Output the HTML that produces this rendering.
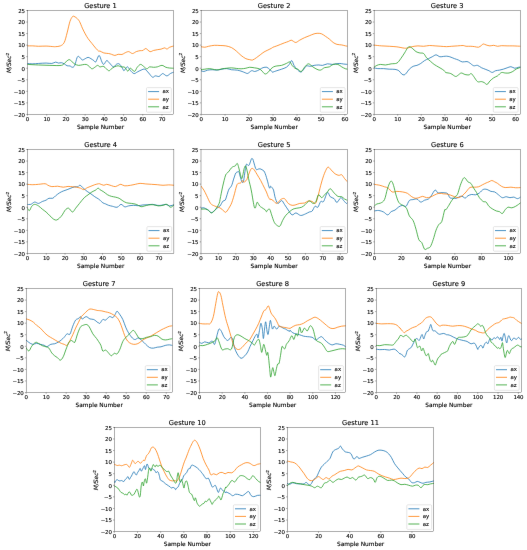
<!DOCTYPE html><html><head><meta charset="utf-8"><title>Gestures</title><style>html,body{margin:0;padding:0;background:#fff;width:527px;height:550px;overflow:hidden}svg{display:block}text{font-family:"DejaVu Sans","Liberation Sans",sans-serif;fill:#000;stroke:#000}.it{font-style:italic}.lg{font-style:normal}</style></head><body>
<svg width="527" height="550" viewBox="0 0 527 550">
<defs><filter id="bl" x="0" y="0" width="527" height="550" filterUnits="userSpaceOnUse" color-interpolation-filters="sRGB"><feConvolveMatrix order="3" kernelMatrix="0 1 0 1 24 1 0 1 0" divisor="28" edgeMode="duplicate" preserveAlpha="true"/></filter>
<clipPath id="c0"><rect x="27.5" y="10.5" width="146" height="103.9"/></clipPath>
<clipPath id="c1"><rect x="201.1" y="10.5" width="146.2" height="103.9"/></clipPath>
<clipPath id="c2"><rect x="374.1" y="10.5" width="146.2" height="103.9"/></clipPath>
<clipPath id="c3"><rect x="27.5" y="149.5" width="146.4" height="103.9"/></clipPath>
<clipPath id="c4"><rect x="201" y="149.5" width="146.2" height="103.9"/></clipPath>
<clipPath id="c5"><rect x="374.5" y="149.5" width="145.9" height="103.9"/></clipPath>
<clipPath id="c6"><rect x="26.15" y="288.5" width="146.1" height="104"/></clipPath>
<clipPath id="c7"><rect x="199.5" y="288.5" width="146.1" height="104"/></clipPath>
<clipPath id="c8"><rect x="376.2" y="288.5" width="145.2" height="104"/></clipPath>
<clipPath id="c9"><rect x="114.3" y="427.4" width="146.1" height="104.2"/></clipPath>
<clipPath id="c10"><rect x="287.3" y="427.4" width="146.5" height="104.2"/></clipPath>
</defs><g filter="url(#bl)"><rect width="527" height="550" fill="#fff"/>
<g><g clip-path="url(#c0)" fill="none" stroke-width="1" stroke-opacity="0.8" stroke-linejoin="round" stroke-linecap="round"><path d="M27 63.45C27.95 63.52 30.82 63.84 32.73 63.84C34.64 63.84 36.23 63.58 38.45 63.45C40.68 63.33 43.86 63.07 46.09 63.07C48.32 63.07 50.23 63.61 51.82 63.45C53.41 63.3 54.52 62.18 55.64 62.12C56.75 62.05 57.55 62.98 58.5 63.07C59.45 63.17 60.41 62.56 61.36 62.69C62.32 62.82 63.27 63.33 64.23 63.84C65.18 64.35 66.14 65.4 67.09 65.75C68.05 66.1 69.06 65.68 69.95 65.94C70.85 66.19 71.64 67.37 72.44 67.27C73.23 67.18 73.96 66.95 74.73 65.36C75.49 63.77 76.38 59.22 77.02 57.73C77.65 56.23 77.97 56.33 78.55 56.39C79.12 56.45 79.82 57.5 80.45 58.11C81.09 58.71 81.57 59.92 82.36 60.02C83.16 60.11 84.27 59.13 85.23 58.68C86.18 58.24 87.14 57.35 88.09 57.35C89.05 57.35 90 58.14 90.95 58.68C91.91 59.22 93.02 60.05 93.82 60.59C94.61 61.13 94.93 62.72 95.73 61.93C96.52 61.13 97.88 56.68 98.59 55.82C99.3 54.96 99.45 55.75 100 56.77C100.55 57.79 101.27 60.65 101.91 61.93C102.55 63.2 103.02 64.63 103.82 64.41C104.61 64.19 105.73 60.81 106.68 60.59C107.64 60.37 108.43 62.02 109.55 63.07C110.66 64.12 112.25 66.67 113.36 66.89C114.48 67.11 115.27 64.92 116.23 64.41C117.18 63.9 118.14 63.36 119.09 63.84C120.05 64.31 121.16 66.13 121.95 67.27C122.75 68.42 123.23 70.55 123.86 70.71C124.5 70.87 125.14 68.86 125.77 68.23C126.41 67.59 126.89 66.48 127.68 66.89C128.48 67.3 129.5 69.6 130.55 70.71C131.6 71.82 132.87 73.35 133.98 73.57C135.1 73.8 136.05 72.62 137.23 72.05C138.4 71.47 139.77 70.61 141.05 70.14C142.32 69.66 143.59 68.7 144.86 69.18C146.14 69.66 147.41 71.66 148.68 73C149.95 74.34 151.39 76.72 152.5 77.2C153.61 77.68 154.25 75.99 155.36 75.86C156.48 75.74 157.97 76.82 159.18 76.44C160.39 76.05 161.35 73.67 162.62 73.57C163.89 73.48 165.48 75.9 166.82 75.86C168.15 75.83 169.43 74.02 170.64 73.38C171.85 72.75 173.5 72.27 174.07 72.05" stroke="#1f77b4"/><path d="M27 45.89C27.95 45.89 30.82 45.83 32.73 45.89C34.64 45.95 36.23 46.24 38.45 46.27C40.68 46.3 43.55 46.02 46.09 46.08C48.64 46.15 52.14 46.56 53.73 46.65C55.32 46.75 54.52 46.78 55.64 46.65C56.75 46.53 58.98 46.59 60.41 45.89C61.84 45.19 63.11 44.62 64.23 42.45C65.34 40.29 66.14 36.41 67.09 32.91C68.05 29.41 69.06 24.16 69.95 21.45C70.85 18.75 71.8 17.54 72.44 16.68C73.07 15.82 73.07 16.08 73.77 16.3C74.47 16.52 75.68 17.16 76.64 18.02C77.59 18.88 78.55 19.77 79.5 21.45C80.45 23.14 81.41 26.07 82.36 28.14C83.32 30.2 84.27 32.11 85.23 33.86C86.18 35.61 86.98 37.05 88.09 38.64C89.2 40.23 90.64 41.82 91.91 43.41C93.18 45 94.61 46.91 95.73 48.18C96.84 49.45 97.88 50.57 98.59 51.05C99.3 51.52 99.13 50.73 100 51.05C100.87 51.36 102.39 52.54 103.82 52.95C105.25 53.37 107.32 53.3 108.59 53.53C109.86 53.75 110.4 53.97 111.45 54.29C112.5 54.61 113.78 55.44 114.89 55.44C116 55.44 116.96 54.45 118.14 54.29C119.31 54.13 120.84 54.7 121.95 54.48C123.07 54.26 123.7 53.43 124.82 52.95C125.93 52.48 127.36 51.52 128.64 51.62C129.91 51.71 131.18 53.53 132.45 53.53C133.73 53.53 135 52.1 136.27 51.62C137.55 51.14 138.98 50.85 140.09 50.66C141.2 50.47 142 50.82 142.95 50.47C143.91 50.12 144.64 48.37 145.82 48.56C147 48.75 148.75 51.3 150.02 51.62C151.29 51.94 152.25 50.79 153.45 50.47C154.66 50.15 156 49.93 157.27 49.71C158.55 49.49 159.82 49.45 161.09 49.14C162.36 48.82 163.95 47.8 164.91 47.8C165.86 47.8 166.02 49.23 166.82 49.14C167.61 49.04 168.47 47.77 169.68 47.23C170.89 46.69 173.34 46.11 174.07 45.89" stroke="#ff7f0e"/><path d="M27 64.41C28.91 64.5 34.64 64.82 38.45 64.98C42.27 65.14 46.09 65.3 49.91 65.36C53.73 65.43 58.82 65.84 61.36 65.36C63.91 64.89 63.91 63.45 65.18 62.5C66.45 61.55 67.89 59.8 69 59.64C70.11 59.48 70.91 60.81 71.86 61.55C72.82 62.28 73.61 63.39 74.73 64.03C75.84 64.66 77.27 65.24 78.55 65.36C79.82 65.49 81.09 64.95 82.36 64.79C83.64 64.63 85.07 64.15 86.18 64.41C87.3 64.66 88.09 65.59 89.05 66.32C90 67.05 90.95 68.64 91.91 68.8C92.86 68.96 93.82 67.85 94.77 67.27C95.73 66.7 96.77 65.43 97.64 65.36C98.51 65.3 98.97 66.7 100 66.89C101.03 67.08 102.39 65.87 103.82 66.51C105.25 67.15 107.32 70.33 108.59 70.71C109.86 71.09 110.5 69.44 111.45 68.8C112.41 68.16 113.2 67.4 114.32 66.89C115.43 66.38 117.02 65.75 118.14 65.75C119.25 65.75 119.89 66.64 121 66.89C122.11 67.15 123.7 66.57 124.82 67.27C125.93 67.97 126.73 70.93 127.68 71.09C128.64 71.25 129.43 68.16 130.55 68.23C131.66 68.29 133.25 71.63 134.36 71.47C135.48 71.31 136.21 68.45 137.23 67.27C138.25 66.1 139.42 64.57 140.47 64.41C141.52 64.25 142.48 65.59 143.53 66.32C144.58 67.05 145.75 68.7 146.77 68.8C147.79 68.9 148.52 67.15 149.64 66.89C150.75 66.64 152.18 67.27 153.45 67.27C154.73 67.27 155.84 67.21 157.27 66.89C158.7 66.57 160.61 65.3 162.05 65.36C163.48 65.43 164.59 66.83 165.86 67.27C167.14 67.72 168.31 67.88 169.68 68.04C171.05 68.2 173.34 68.2 174.07 68.23" stroke="#2ca02c"/></g><rect x="27.5" y="10.5" width="146" height="103.9" fill="none" stroke="#000" stroke-width="0.32"/><path d="M26.2 114.4H27.5M26.2 102.86H27.5M26.2 91.31H27.5M26.2 79.77H27.5M26.2 68.22H27.5M26.2 56.68H27.5M26.2 45.13H27.5M26.2 33.59H27.5M26.2 22.04H27.5M26.2 10.5H27.5M27.5 114.4V115.7M46.71 114.4V115.7M65.92 114.4V115.7M85.13 114.4V115.7M104.34 114.4V115.7M123.55 114.4V115.7M142.76 114.4V115.7M161.97 114.4V115.7" stroke="#000" stroke-width="0.32"/><text transform="translate(24.9 116.69) rotate(0) scale(0.02)" font-size="272.5" text-anchor="end" stroke-width="6" letter-spacing="-7.5">−20</text><text transform="translate(24.9 105.14) rotate(0) scale(0.02)" font-size="272.5" text-anchor="end" stroke-width="6" letter-spacing="-7.5">−15</text><text transform="translate(24.9 93.6) rotate(0) scale(0.02)" font-size="272.5" text-anchor="end" stroke-width="6" letter-spacing="-7.5">−10</text><text transform="translate(24.9 82.06) rotate(0) scale(0.02)" font-size="272.5" text-anchor="end" stroke-width="6" letter-spacing="-7.5">−5</text><text transform="translate(24.9 70.51) rotate(0) scale(0.02)" font-size="272.5" text-anchor="end" stroke-width="6" letter-spacing="-7.5">0</text><text transform="translate(24.9 58.97) rotate(0) scale(0.02)" font-size="272.5" text-anchor="end" stroke-width="6" letter-spacing="-7.5">5</text><text transform="translate(24.9 47.42) rotate(0) scale(0.02)" font-size="272.5" text-anchor="end" stroke-width="6" letter-spacing="-7.5">10</text><text transform="translate(24.9 35.88) rotate(0) scale(0.02)" font-size="272.5" text-anchor="end" stroke-width="6" letter-spacing="-7.5">15</text><text transform="translate(24.9 24.33) rotate(0) scale(0.02)" font-size="272.5" text-anchor="end" stroke-width="6" letter-spacing="-7.5">20</text><text transform="translate(24.9 12.79) rotate(0) scale(0.02)" font-size="272.5" text-anchor="end" stroke-width="6" letter-spacing="-7.5">25</text><text transform="translate(27.5 121.1) rotate(0) scale(0.02)" font-size="272.5" text-anchor="middle" stroke-width="6" letter-spacing="-7.5">0</text><text transform="translate(46.71 121.1) rotate(0) scale(0.02)" font-size="272.5" text-anchor="middle" stroke-width="6" letter-spacing="-7.5">10</text><text transform="translate(65.92 121.1) rotate(0) scale(0.02)" font-size="272.5" text-anchor="middle" stroke-width="6" letter-spacing="-7.5">20</text><text transform="translate(85.13 121.1) rotate(0) scale(0.02)" font-size="272.5" text-anchor="middle" stroke-width="6" letter-spacing="-7.5">30</text><text transform="translate(104.34 121.1) rotate(0) scale(0.02)" font-size="272.5" text-anchor="middle" stroke-width="6" letter-spacing="-7.5">40</text><text transform="translate(123.55 121.1) rotate(0) scale(0.02)" font-size="272.5" text-anchor="middle" stroke-width="6" letter-spacing="-7.5">50</text><text transform="translate(142.76 121.1) rotate(0) scale(0.02)" font-size="272.5" text-anchor="middle" stroke-width="6" letter-spacing="-7.5">60</text><text transform="translate(161.97 121.1) rotate(0) scale(0.02)" font-size="272.5" text-anchor="middle" stroke-width="6" letter-spacing="-7.5">70</text><text transform="translate(100.5 128.9) rotate(0) scale(0.02)" font-size="292.5" text-anchor="middle" stroke-width="6">Sample Number</text><text transform="translate(100.5 8.1) rotate(0) scale(0.02)" font-size="335" text-anchor="middle" stroke-width="6">Gesture 1</text><text transform="translate(10.9 63.05) rotate(-90) scale(0.02)" font-size="292.5" text-anchor="middle" class="it" stroke-width="6">M/Sec<tspan font-size="204.75" dy="-105.3" font-style="normal">2</tspan></text><rect x="146.5" y="87.6" width="24.8" height="24.6" rx="1" fill="#fff" fill-opacity="0.8" stroke="#ccc" stroke-width="0.5"/><path d="M148.1 91.6H159.1" stroke="#1f77b4" stroke-opacity="0.8" stroke-width="1"/><text transform="translate(162.5 93.3) rotate(0) scale(0.02)" font-size="270" class="lg" stroke-width="5">ax</text><path d="M148.1 99.2H159.1" stroke="#ff7f0e" stroke-opacity="0.8" stroke-width="1"/><text transform="translate(162.5 100.9) rotate(0) scale(0.02)" font-size="270" class="lg" stroke-width="5">ay</text><path d="M148.1 106.8H159.1" stroke="#2ca02c" stroke-opacity="0.8" stroke-width="1"/><text transform="translate(162.5 108.5) rotate(0) scale(0.02)" font-size="270" class="lg" stroke-width="5">az</text></g>
<g><g clip-path="url(#c1)" fill="none" stroke-width="1" stroke-opacity="0.8" stroke-linejoin="round" stroke-linecap="round"><path d="M201 70.71C201.48 70.84 202.75 71.57 203.86 71.47C204.98 71.38 206.25 70.42 207.68 70.14C209.11 69.85 210.86 69.75 212.45 69.75C214.05 69.75 215.64 70.23 217.23 70.14C218.82 70.04 220.41 69.44 222 69.18C223.59 68.93 225.18 68.51 226.77 68.61C228.36 68.7 229.8 69.5 231.55 69.75C233.3 70.01 235.52 69.85 237.27 70.14C239.02 70.42 240.77 71.06 242.05 71.47C243.32 71.89 243.95 72.3 244.91 72.62C245.86 72.94 246.66 73.7 247.77 73.38C248.89 73.06 250.48 71.03 251.59 70.71C252.7 70.39 253.5 71.47 254.45 71.47C255.41 71.47 256.36 71.09 257.32 70.71C258.27 70.33 259.23 69.69 260.18 69.18C261.14 68.67 261.93 67.97 263.05 67.65C264.16 67.34 265.75 66.95 266.86 67.27C267.98 67.59 268.77 68.77 269.73 69.56C270.68 70.36 272.05 71.63 272.59 72.05C273.14 72.46 272.3 72.27 273 72.05C273.7 71.82 275.39 71.19 276.82 70.71C278.25 70.23 280 69.75 281.59 69.18C283.18 68.61 285.09 68.07 286.36 67.27C287.64 66.48 288.34 65.52 289.23 64.41C290.12 63.3 290.91 60.43 291.71 60.59C292.5 60.75 293.14 63.93 294 65.36C294.86 66.8 295.75 68.07 296.86 69.18C297.98 70.3 299.57 71.98 300.68 72.05C301.8 72.11 302.59 70.58 303.55 69.56C304.5 68.55 305.3 66.48 306.41 65.94C307.52 65.4 308.95 66.41 310.23 66.32C311.5 66.22 312.61 65.59 314.05 65.36C315.48 65.14 317.39 64.98 318.82 64.98C320.25 64.98 321.2 65.55 322.64 65.36C324.07 65.17 325.82 64 327.41 63.84C329 63.68 330.75 64.41 332.18 64.41C333.61 64.41 334.73 64 336 63.84C337.27 63.68 338.55 63.42 339.82 63.45C341.09 63.49 342.27 63.87 343.64 64.03C345 64.19 347.3 64.35 348.03 64.41" stroke="#1f77b4"/><path d="M201 46.65C201.64 46.75 203.55 47.29 204.82 47.23C206.09 47.16 207.05 46.59 208.64 46.27C210.23 45.95 212.45 45.45 214.36 45.32C216.27 45.19 218.18 45.41 220.09 45.51C222 45.6 223.91 45.54 225.82 45.89C227.73 46.24 229.8 46.75 231.55 47.61C233.3 48.47 234.73 49.74 236.32 51.05C237.91 52.35 239.5 54.16 241.09 55.44C242.68 56.71 244.43 57.98 245.86 58.68C247.3 59.38 248.57 59.41 249.68 59.64C250.8 59.86 251.43 60.34 252.55 60.02C253.66 59.7 255.09 58.59 256.36 57.73C257.64 56.87 258.91 55.82 260.18 54.86C261.45 53.91 262.73 52.8 264 52C265.27 51.2 266.55 50.73 267.82 50.09C269.09 49.45 270.77 48.66 271.64 48.18C272.5 47.7 272.14 47.61 273 47.23C273.86 46.85 275.55 46.37 276.82 45.89C278.09 45.41 279.36 44.87 280.64 44.36C281.91 43.85 283.18 43.31 284.45 42.84C285.73 42.36 287.16 41.95 288.27 41.5C289.39 41.05 290.34 40.23 291.14 40.16C291.93 40.1 292.25 40.74 293.05 41.12C293.84 41.5 294.8 42.61 295.91 42.45C297.02 42.3 298.3 40.96 299.73 40.16C301.16 39.37 302.91 38.41 304.5 37.68C306.09 36.95 307.68 36.41 309.27 35.77C310.86 35.14 312.61 34.28 314.05 33.86C315.48 33.45 316.59 33.29 317.86 33.29C319.14 33.29 320.41 33.35 321.68 33.86C322.95 34.37 324.23 35.49 325.5 36.35C326.77 37.2 328.05 38 329.32 39.02C330.59 40.04 331.86 41.56 333.14 42.45C334.41 43.35 335.52 43.95 336.95 44.36C338.39 44.78 340.3 44.68 341.73 44.94C343.16 45.19 344.5 45.67 345.55 45.89C346.6 46.11 347.61 46.21 348.03 46.27" stroke="#ff7f0e"/><path d="M201 69.56C201.64 69.5 203.39 69.34 204.82 69.18C206.25 69.02 208 68.55 209.59 68.61C211.18 68.67 212.93 69.37 214.36 69.56C215.8 69.75 216.91 69.88 218.18 69.75C219.45 69.63 220.57 69.05 222 68.8C223.43 68.55 225.18 68.39 226.77 68.23C228.36 68.07 229.95 67.81 231.55 67.85C233.14 67.88 234.73 68.26 236.32 68.42C237.91 68.58 239.5 68.83 241.09 68.8C242.68 68.77 244.43 68.48 245.86 68.23C247.3 67.97 248.25 67.34 249.68 67.27C251.11 67.21 252.86 67.59 254.45 67.85C256.05 68.1 257.95 68.26 259.23 68.8C260.5 69.34 261.14 70.23 262.09 71.09C263.05 71.95 264 73.7 264.95 73.95C265.91 74.21 266.86 73.41 267.82 72.62C268.77 71.82 269.73 70.14 270.68 69.18C271.64 68.23 272.52 67.43 273.55 66.89C274.57 66.35 275.48 66.19 276.82 65.94C278.16 65.68 280 65.78 281.59 65.36C283.18 64.95 285 64.03 286.36 63.45C287.73 62.88 288.85 61.61 289.8 61.93C290.75 62.25 291.23 64.31 292.09 65.36C292.95 66.41 294 67.59 294.95 68.23C295.91 68.86 296.77 68.64 297.82 69.18C298.87 69.72 300.14 71.79 301.25 71.47C302.37 71.15 303.32 68.55 304.5 67.27C305.68 66 307.05 64 308.32 63.84C309.59 63.68 310.86 65.49 312.14 66.32C313.41 67.15 314.59 68.16 315.95 68.8C317.32 69.44 318.91 70.33 320.35 70.14C321.78 69.95 323.05 68.2 324.55 67.65C326.04 67.11 327.89 67.43 329.32 66.89C330.75 66.35 331.7 64.82 333.14 64.41C334.57 64 336.48 64 337.91 64.41C339.34 64.82 340.45 66.16 341.73 66.89C343 67.62 344.5 68.42 345.55 68.8C346.6 69.18 347.61 69.12 348.03 69.18" stroke="#2ca02c"/></g><rect x="201.1" y="10.5" width="146.2" height="103.9" fill="none" stroke="#000" stroke-width="0.32"/><path d="M199.8 114.4H201.1M199.8 102.86H201.1M199.8 91.31H201.1M199.8 79.77H201.1M199.8 68.22H201.1M199.8 56.68H201.1M199.8 45.13H201.1M199.8 33.59H201.1M199.8 22.04H201.1M199.8 10.5H201.1M201.1 114.4V115.7M225.07 114.4V115.7M249.03 114.4V115.7M273 114.4V115.7M296.97 114.4V115.7M320.94 114.4V115.7M344.9 114.4V115.7" stroke="#000" stroke-width="0.32"/><text transform="translate(198.5 116.69) rotate(0) scale(0.02)" font-size="272.5" text-anchor="end" stroke-width="6" letter-spacing="-7.5">−20</text><text transform="translate(198.5 105.14) rotate(0) scale(0.02)" font-size="272.5" text-anchor="end" stroke-width="6" letter-spacing="-7.5">−15</text><text transform="translate(198.5 93.6) rotate(0) scale(0.02)" font-size="272.5" text-anchor="end" stroke-width="6" letter-spacing="-7.5">−10</text><text transform="translate(198.5 82.06) rotate(0) scale(0.02)" font-size="272.5" text-anchor="end" stroke-width="6" letter-spacing="-7.5">−5</text><text transform="translate(198.5 70.51) rotate(0) scale(0.02)" font-size="272.5" text-anchor="end" stroke-width="6" letter-spacing="-7.5">0</text><text transform="translate(198.5 58.97) rotate(0) scale(0.02)" font-size="272.5" text-anchor="end" stroke-width="6" letter-spacing="-7.5">5</text><text transform="translate(198.5 47.42) rotate(0) scale(0.02)" font-size="272.5" text-anchor="end" stroke-width="6" letter-spacing="-7.5">10</text><text transform="translate(198.5 35.88) rotate(0) scale(0.02)" font-size="272.5" text-anchor="end" stroke-width="6" letter-spacing="-7.5">15</text><text transform="translate(198.5 24.33) rotate(0) scale(0.02)" font-size="272.5" text-anchor="end" stroke-width="6" letter-spacing="-7.5">20</text><text transform="translate(198.5 12.79) rotate(0) scale(0.02)" font-size="272.5" text-anchor="end" stroke-width="6" letter-spacing="-7.5">25</text><text transform="translate(201.1 121.1) rotate(0) scale(0.02)" font-size="272.5" text-anchor="middle" stroke-width="6" letter-spacing="-7.5">0</text><text transform="translate(225.07 121.1) rotate(0) scale(0.02)" font-size="272.5" text-anchor="middle" stroke-width="6" letter-spacing="-7.5">10</text><text transform="translate(249.03 121.1) rotate(0) scale(0.02)" font-size="272.5" text-anchor="middle" stroke-width="6" letter-spacing="-7.5">20</text><text transform="translate(273 121.1) rotate(0) scale(0.02)" font-size="272.5" text-anchor="middle" stroke-width="6" letter-spacing="-7.5">30</text><text transform="translate(296.97 121.1) rotate(0) scale(0.02)" font-size="272.5" text-anchor="middle" stroke-width="6" letter-spacing="-7.5">40</text><text transform="translate(320.94 121.1) rotate(0) scale(0.02)" font-size="272.5" text-anchor="middle" stroke-width="6" letter-spacing="-7.5">50</text><text transform="translate(344.9 121.1) rotate(0) scale(0.02)" font-size="272.5" text-anchor="middle" stroke-width="6" letter-spacing="-7.5">60</text><text transform="translate(274.2 128.9) rotate(0) scale(0.02)" font-size="292.5" text-anchor="middle" stroke-width="6">Sample Number</text><text transform="translate(274.2 8.1) rotate(0) scale(0.02)" font-size="335" text-anchor="middle" stroke-width="6">Gesture 2</text><text transform="translate(184.5 63.05) rotate(-90) scale(0.02)" font-size="292.5" text-anchor="middle" class="it" stroke-width="6">M/Sec<tspan font-size="204.75" dy="-105.3" font-style="normal">2</tspan></text><rect x="320.3" y="87.6" width="24.8" height="24.6" rx="1" fill="#fff" fill-opacity="0.8" stroke="#ccc" stroke-width="0.5"/><path d="M321.9 91.6H332.9" stroke="#1f77b4" stroke-opacity="0.8" stroke-width="1"/><text transform="translate(336.3 93.3) rotate(0) scale(0.02)" font-size="270" class="lg" stroke-width="5">ax</text><path d="M321.9 99.2H332.9" stroke="#ff7f0e" stroke-opacity="0.8" stroke-width="1"/><text transform="translate(336.3 100.9) rotate(0) scale(0.02)" font-size="270" class="lg" stroke-width="5">ay</text><path d="M321.9 106.8H332.9" stroke="#2ca02c" stroke-opacity="0.8" stroke-width="1"/><text transform="translate(336.3 108.5) rotate(0) scale(0.02)" font-size="270" class="lg" stroke-width="5">az</text></g>
<g><g clip-path="url(#c2)" fill="none" stroke-width="1" stroke-opacity="0.8" stroke-linejoin="round" stroke-linecap="round"><path d="M374 67.85C374.64 67.97 376.23 68.48 377.82 68.61C379.41 68.74 381.64 68.51 383.55 68.61C385.45 68.7 387.36 69.05 389.27 69.18C391.18 69.31 393.41 69.12 395 69.37C396.59 69.63 397.7 69.95 398.82 70.71C399.93 71.47 400.79 73.25 401.68 73.95C402.57 74.65 403.37 75.07 404.16 74.91C404.96 74.75 405.6 73.95 406.45 73C407.31 72.05 408.2 70.3 409.32 69.18C410.43 68.07 411.86 66.95 413.14 66.32C414.41 65.68 415.68 65.84 416.95 65.36C418.23 64.89 419.5 64.25 420.77 63.45C422.05 62.66 423.32 61.39 424.59 60.59C425.86 59.8 427.14 59.32 428.41 58.68C429.68 58.05 430.95 57.41 432.23 56.77C433.5 56.14 434.77 54.86 436.05 54.86C437.32 54.86 438.59 56.52 439.86 56.77C441.14 57.03 442.57 56.49 443.68 56.39C444.8 56.3 445.52 56.14 446.55 56.2C447.57 56.26 448.48 56.36 449.82 56.77C451.16 57.19 453.16 58.14 454.59 58.68C456.02 59.22 457.14 59.48 458.41 60.02C459.68 60.56 460.8 61.67 462.23 61.93C463.66 62.18 465.73 61.35 467 61.55C468.27 61.74 468.75 62.37 469.86 63.07C470.98 63.77 472.41 65.36 473.68 65.75C474.95 66.13 476.23 65.05 477.5 65.36C478.77 65.68 480.05 67.02 481.32 67.65C482.59 68.29 483.86 68.67 485.14 69.18C486.41 69.69 487.78 70.17 488.95 70.71C490.13 71.25 491.09 72.43 492.2 72.43C493.31 72.43 494.43 71.09 495.64 70.71C496.85 70.33 498.18 70.39 499.45 70.14C500.73 69.88 502 69.56 503.27 69.18C504.55 68.8 505.82 68.26 507.09 67.85C508.36 67.43 509.64 66.64 510.91 66.7C512.18 66.76 513.45 68.13 514.73 68.23C516 68.32 517.5 67.5 518.55 67.27C519.6 67.05 520.61 66.95 521.03 66.89" stroke="#1f77b4"/><path d="M374 45.13C375.27 45.25 379.09 45.7 381.64 45.89C384.18 46.08 386.73 46.11 389.27 46.27C391.82 46.43 394.36 46.53 396.91 46.85C399.45 47.16 402.64 48.02 404.55 48.18C406.45 48.34 407.09 48.05 408.36 47.8C409.64 47.55 410.59 46.97 412.18 46.65C413.77 46.34 416 45.95 417.91 45.89C419.82 45.83 421.73 46.34 423.64 46.27C425.55 46.21 427.45 45.57 429.36 45.51C431.27 45.45 433.18 45.76 435.09 45.89C437 46.02 438.91 46.15 440.82 46.27C442.73 46.4 444.73 46.65 446.55 46.65C448.36 46.65 449.91 46.4 451.73 46.27C453.55 46.15 455.55 46.02 457.45 45.89C459.36 45.76 461.75 45.45 463.18 45.51C464.61 45.57 464.77 46.15 466.05 46.27C467.32 46.4 469.39 46.21 470.82 46.27C472.25 46.34 473.36 46.5 474.64 46.65C475.91 46.81 477.34 47.42 478.45 47.23C479.57 47.04 480.52 46.05 481.32 45.51C482.11 44.97 482.43 44.08 483.23 43.98C484.02 43.89 484.98 44.62 486.09 44.94C487.2 45.25 488.64 45.83 489.91 45.89C491.18 45.95 492.45 45.25 493.73 45.32C495 45.38 496.27 46.21 497.55 46.27C498.82 46.34 499.77 45.76 501.36 45.7C502.95 45.64 505.18 45.86 507.09 45.89C509 45.92 510.5 45.83 512.82 45.89C515.14 45.95 519.66 46.21 521.03 46.27" stroke="#ff7f0e"/><path d="M374 67.27C374.48 66.95 375.75 65.84 376.86 65.36C377.98 64.89 379.25 64.47 380.68 64.41C382.11 64.35 383.7 65.08 385.45 64.98C387.2 64.89 389.27 64.15 391.18 63.84C393.09 63.52 395.32 63.93 396.91 63.07C398.5 62.21 399.45 60.37 400.73 58.68C402 57 403.43 54.7 404.55 52.95C405.66 51.2 406.61 49.23 407.41 48.18C408.2 47.13 408.52 46.65 409.32 46.65C410.11 46.65 411.07 47.35 412.18 48.18C413.3 49.01 414.73 50.82 416 51.62C417.27 52.41 418.55 52.64 419.82 52.95C421.09 53.27 422.52 52.73 423.64 53.53C424.75 54.32 425.39 56.45 426.5 57.73C427.61 59 429.05 60.05 430.32 61.16C431.59 62.28 432.7 63.39 434.14 64.41C435.57 65.43 437.48 66.41 438.91 67.27C440.34 68.13 441.61 68.77 442.73 69.56C443.84 70.36 445.05 71.54 445.59 72.05C446.14 72.55 445.14 72.36 446 72.62C446.86 72.87 449.18 72.94 450.77 73.57C452.36 74.21 454.27 76.21 455.55 76.44C456.82 76.66 457.45 75.48 458.41 74.91C459.36 74.34 460.16 73.06 461.27 73C462.39 72.94 463.82 74.21 465.09 74.53C466.36 74.85 467.89 75.07 468.91 74.91C469.93 74.75 470.4 73.32 471.2 73.57C472 73.83 472.63 75.1 473.68 76.44C474.73 77.77 476.23 80.73 477.5 81.59C478.77 82.45 480.2 81.43 481.32 81.59C482.43 81.75 483.23 82.07 484.18 82.55C485.14 83.02 486.09 84.71 487.05 84.45C488 84.2 488.8 82.13 489.91 81.02C491.02 79.9 492.45 78.63 493.73 77.77C495 76.91 496.27 76.72 497.55 75.86C498.82 75 500.09 73.1 501.36 72.62C502.64 72.14 503.91 72.94 505.18 73C506.45 73.06 507.73 73.25 509 73C510.27 72.75 511.55 72.17 512.82 71.47C514.09 70.77 515.27 69.5 516.64 68.8C518 68.1 520.3 67.53 521.03 67.27" stroke="#2ca02c"/></g><rect x="374.1" y="10.5" width="146.2" height="103.9" fill="none" stroke="#000" stroke-width="0.32"/><path d="M372.8 114.4H374.1M372.8 102.86H374.1M372.8 91.31H374.1M372.8 79.77H374.1M372.8 68.22H374.1M372.8 56.68H374.1M372.8 45.13H374.1M372.8 33.59H374.1M372.8 22.04H374.1M372.8 10.5H374.1M374.1 114.4V115.7M397.68 114.4V115.7M421.26 114.4V115.7M444.84 114.4V115.7M468.42 114.4V115.7M492 114.4V115.7M515.58 114.4V115.7" stroke="#000" stroke-width="0.32"/><text transform="translate(371.5 116.69) rotate(0) scale(0.02)" font-size="272.5" text-anchor="end" stroke-width="6" letter-spacing="-7.5">−20</text><text transform="translate(371.5 105.14) rotate(0) scale(0.02)" font-size="272.5" text-anchor="end" stroke-width="6" letter-spacing="-7.5">−15</text><text transform="translate(371.5 93.6) rotate(0) scale(0.02)" font-size="272.5" text-anchor="end" stroke-width="6" letter-spacing="-7.5">−10</text><text transform="translate(371.5 82.06) rotate(0) scale(0.02)" font-size="272.5" text-anchor="end" stroke-width="6" letter-spacing="-7.5">−5</text><text transform="translate(371.5 70.51) rotate(0) scale(0.02)" font-size="272.5" text-anchor="end" stroke-width="6" letter-spacing="-7.5">0</text><text transform="translate(371.5 58.97) rotate(0) scale(0.02)" font-size="272.5" text-anchor="end" stroke-width="6" letter-spacing="-7.5">5</text><text transform="translate(371.5 47.42) rotate(0) scale(0.02)" font-size="272.5" text-anchor="end" stroke-width="6" letter-spacing="-7.5">10</text><text transform="translate(371.5 35.88) rotate(0) scale(0.02)" font-size="272.5" text-anchor="end" stroke-width="6" letter-spacing="-7.5">15</text><text transform="translate(371.5 24.33) rotate(0) scale(0.02)" font-size="272.5" text-anchor="end" stroke-width="6" letter-spacing="-7.5">20</text><text transform="translate(371.5 12.79) rotate(0) scale(0.02)" font-size="272.5" text-anchor="end" stroke-width="6" letter-spacing="-7.5">25</text><text transform="translate(374.1 121.1) rotate(0) scale(0.02)" font-size="272.5" text-anchor="middle" stroke-width="6" letter-spacing="-7.5">0</text><text transform="translate(397.68 121.1) rotate(0) scale(0.02)" font-size="272.5" text-anchor="middle" stroke-width="6" letter-spacing="-7.5">10</text><text transform="translate(421.26 121.1) rotate(0) scale(0.02)" font-size="272.5" text-anchor="middle" stroke-width="6" letter-spacing="-7.5">20</text><text transform="translate(444.84 121.1) rotate(0) scale(0.02)" font-size="272.5" text-anchor="middle" stroke-width="6" letter-spacing="-7.5">30</text><text transform="translate(468.42 121.1) rotate(0) scale(0.02)" font-size="272.5" text-anchor="middle" stroke-width="6" letter-spacing="-7.5">40</text><text transform="translate(492 121.1) rotate(0) scale(0.02)" font-size="272.5" text-anchor="middle" stroke-width="6" letter-spacing="-7.5">50</text><text transform="translate(515.58 121.1) rotate(0) scale(0.02)" font-size="272.5" text-anchor="middle" stroke-width="6" letter-spacing="-7.5">60</text><text transform="translate(447.2 128.9) rotate(0) scale(0.02)" font-size="292.5" text-anchor="middle" stroke-width="6">Sample Number</text><text transform="translate(447.2 8.1) rotate(0) scale(0.02)" font-size="335" text-anchor="middle" stroke-width="6">Gesture 3</text><text transform="translate(357.5 63.05) rotate(-90) scale(0.02)" font-size="292.5" text-anchor="middle" class="it" stroke-width="6">M/Sec<tspan font-size="204.75" dy="-105.3" font-style="normal">2</tspan></text><rect x="493.3" y="87.6" width="24.8" height="24.6" rx="1" fill="#fff" fill-opacity="0.8" stroke="#ccc" stroke-width="0.5"/><path d="M494.9 91.6H505.9" stroke="#1f77b4" stroke-opacity="0.8" stroke-width="1"/><text transform="translate(509.3 93.3) rotate(0) scale(0.02)" font-size="270" class="lg" stroke-width="5">ax</text><path d="M494.9 99.2H505.9" stroke="#ff7f0e" stroke-opacity="0.8" stroke-width="1"/><text transform="translate(509.3 100.9) rotate(0) scale(0.02)" font-size="270" class="lg" stroke-width="5">ay</text><path d="M494.9 106.8H505.9" stroke="#2ca02c" stroke-opacity="0.8" stroke-width="1"/><text transform="translate(509.3 108.5) rotate(0) scale(0.02)" font-size="270" class="lg" stroke-width="5">az</text></g>
<g><g clip-path="url(#c3)" fill="none" stroke-width="1" stroke-opacity="0.8" stroke-linejoin="round" stroke-linecap="round"><path d="M27 204.36C27.64 204.36 29.55 204.75 30.82 204.36C32.09 203.98 33.36 202.23 34.64 202.07C35.91 201.91 37.18 203.5 38.45 203.41C39.73 203.31 41 202.04 42.27 201.5C43.55 200.96 44.98 200.7 46.09 200.16C47.2 199.62 47.84 198.57 48.95 198.25C50.07 197.94 51.66 198.67 52.77 198.25C53.89 197.84 54.52 196.66 55.64 195.77C56.75 194.88 58.18 193.7 59.45 192.91C60.73 192.11 62 191.54 63.27 191C64.55 190.46 65.82 190.14 67.09 189.66C68.36 189.19 69.64 188.61 70.91 188.14C72.18 187.66 73.61 187.02 74.73 186.8C75.84 186.58 76.7 187.05 77.59 186.8C78.48 186.55 79.12 185.05 80.07 185.27C81.03 185.5 82.14 187.12 83.32 188.14C84.5 189.15 85.86 190.43 87.14 191.38C88.41 192.34 89.68 192.97 90.95 193.86C92.23 194.75 93.5 195.87 94.77 196.73C96.05 197.59 97.72 198.45 98.59 199.02C99.46 199.59 99.29 199.53 100 200.16C100.71 200.8 101.91 202.2 102.86 202.84C103.82 203.47 104.77 203.57 105.73 203.98C106.68 204.4 107.48 204.94 108.59 205.32C109.7 205.7 110.98 205.95 112.41 206.27C113.84 206.59 115.75 207.55 117.18 207.23C118.61 206.91 119.73 204.43 121 204.36C122.27 204.3 123.55 206.59 124.82 206.85C126.09 207.1 127.2 206.15 128.64 205.89C130.07 205.64 131.82 205.35 133.41 205.32C135 205.29 136.59 205.76 138.18 205.7C139.77 205.64 141.36 205.1 142.95 204.94C144.55 204.78 146.14 204.84 147.73 204.75C149.32 204.65 150.91 204.27 152.5 204.36C154.09 204.46 155.84 205.16 157.27 205.32C158.7 205.48 159.66 205.48 161.09 205.32C162.52 205.16 164.43 204.27 165.86 204.36C167.3 204.46 168.31 205.83 169.68 205.89C171.05 205.95 173.34 204.94 174.07 204.75" stroke="#1f77b4"/><path d="M27 184.32C27.95 184.38 30.82 184.7 32.73 184.7C34.64 184.7 36.39 184.48 38.45 184.32C40.52 184.16 43.55 183.59 45.14 183.75C46.73 183.9 46.89 184.8 48 185.27C49.11 185.75 50.23 186.45 51.82 186.61C53.41 186.77 55.64 186.13 57.55 186.23C59.45 186.32 61.52 187.15 63.27 187.18C65.02 187.21 66.45 186.48 68.05 186.42C69.64 186.35 71.39 186.67 72.82 186.8C74.25 186.93 75.36 186.96 76.64 187.18C77.91 187.4 79.25 187.72 80.45 188.14C81.66 188.55 82.78 189.73 83.89 189.66C85 189.6 85.96 188.33 87.14 187.75C88.31 187.18 89.68 186.74 90.95 186.23C92.23 185.72 93.5 185.11 94.77 184.7C96.05 184.29 97.72 183.87 98.59 183.75C99.46 183.62 99.13 183.68 100 183.94C100.87 184.19 102.7 185.21 103.82 185.27C104.93 185.34 105.41 184.25 106.68 184.32C107.95 184.38 110.02 185.27 111.45 185.65C112.89 186.04 114 186.74 115.27 186.61C116.55 186.48 118.14 185.27 119.09 184.89C120.05 184.51 120.05 184.16 121 184.32C121.95 184.48 123.23 185.69 124.82 185.85C126.41 186 128.8 185.53 130.55 185.27C132.3 185.02 133.73 184.64 135.32 184.32C136.91 184 138.34 183.43 140.09 183.36C141.84 183.3 143.91 183.78 145.82 183.94C147.73 184.1 149.64 184.19 151.55 184.32C153.45 184.45 155.36 184.54 157.27 184.7C159.18 184.86 161.09 185.24 163 185.27C164.91 185.3 166.88 184.89 168.73 184.89C170.57 184.89 173.18 185.21 174.07 185.27" stroke="#ff7f0e"/><path d="M27 207.23C27.38 207.8 28.5 210.82 29.29 210.66C30.09 210.5 30.88 207.32 31.77 206.27C32.66 205.22 33.52 204.43 34.64 204.36C35.75 204.3 37.18 205.1 38.45 205.89C39.73 206.69 41 208.12 42.27 209.14C43.55 210.15 44.82 210.89 46.09 212C47.36 213.11 48.64 214.61 49.91 215.82C51.18 217.03 52.61 218.55 53.73 219.25C54.84 219.95 55.64 220.21 56.59 220.02C57.55 219.83 58.5 218.97 59.45 218.11C60.41 217.25 61.36 216.2 62.32 214.86C63.27 213.53 64.13 211.2 65.18 210.09C66.23 208.98 67.41 207.86 68.62 208.18C69.83 208.5 71.26 212 72.44 212C73.61 212 74.5 209.61 75.68 208.18C76.86 206.75 78.07 205.16 79.5 203.41C80.93 201.66 82.84 199.11 84.27 197.68C85.7 196.25 86.82 195.77 88.09 194.82C89.36 193.86 90.64 192.75 91.91 191.95C93.18 191.16 94.71 190.68 95.73 190.05C96.75 189.41 97.31 188.2 98.02 188.14C98.73 188.07 99.03 189.03 100 189.66C100.97 190.3 102.55 191.1 103.82 191.95C105.09 192.81 106.36 194.09 107.64 194.82C108.91 195.55 110.18 195.96 111.45 196.35C112.73 196.73 114 196.79 115.27 197.11C116.55 197.43 117.82 197.62 119.09 198.25C120.36 198.89 121.64 200.16 122.91 200.93C124.18 201.69 125.3 202.42 126.73 202.84C128.16 203.25 129.91 203.15 131.5 203.41C133.09 203.66 134.68 203.82 136.27 204.36C137.86 204.9 139.61 206.4 141.05 206.65C142.48 206.91 143.59 206.18 144.86 205.89C146.14 205.6 147.25 205.13 148.68 204.94C150.11 204.75 151.86 204.59 153.45 204.75C155.05 204.9 156.64 205.8 158.23 205.89C159.82 205.99 161.57 205.57 163 205.32C164.43 205.06 165.55 204.05 166.82 204.36C168.09 204.68 169.43 207.16 170.64 207.23C171.85 207.29 173.5 205.16 174.07 204.75" stroke="#2ca02c"/></g><rect x="27.5" y="149.5" width="146.4" height="103.9" fill="none" stroke="#000" stroke-width="0.32"/><path d="M26.2 253.4H27.5M26.2 241.86H27.5M26.2 230.31H27.5M26.2 218.77H27.5M26.2 207.22H27.5M26.2 195.68H27.5M26.2 184.13H27.5M26.2 172.59H27.5M26.2 161.04H27.5M26.2 149.5H27.5M27.5 253.4V254.7M46.27 253.4V254.7M65.04 253.4V254.7M83.81 253.4V254.7M102.58 253.4V254.7M121.35 253.4V254.7M140.12 253.4V254.7M158.88 253.4V254.7" stroke="#000" stroke-width="0.32"/><text transform="translate(24.9 255.69) rotate(0) scale(0.02)" font-size="272.5" text-anchor="end" stroke-width="6" letter-spacing="-7.5">−20</text><text transform="translate(24.9 244.14) rotate(0) scale(0.02)" font-size="272.5" text-anchor="end" stroke-width="6" letter-spacing="-7.5">−15</text><text transform="translate(24.9 232.6) rotate(0) scale(0.02)" font-size="272.5" text-anchor="end" stroke-width="6" letter-spacing="-7.5">−10</text><text transform="translate(24.9 221.06) rotate(0) scale(0.02)" font-size="272.5" text-anchor="end" stroke-width="6" letter-spacing="-7.5">−5</text><text transform="translate(24.9 209.51) rotate(0) scale(0.02)" font-size="272.5" text-anchor="end" stroke-width="6" letter-spacing="-7.5">0</text><text transform="translate(24.9 197.97) rotate(0) scale(0.02)" font-size="272.5" text-anchor="end" stroke-width="6" letter-spacing="-7.5">5</text><text transform="translate(24.9 186.42) rotate(0) scale(0.02)" font-size="272.5" text-anchor="end" stroke-width="6" letter-spacing="-7.5">10</text><text transform="translate(24.9 174.88) rotate(0) scale(0.02)" font-size="272.5" text-anchor="end" stroke-width="6" letter-spacing="-7.5">15</text><text transform="translate(24.9 163.33) rotate(0) scale(0.02)" font-size="272.5" text-anchor="end" stroke-width="6" letter-spacing="-7.5">20</text><text transform="translate(24.9 151.79) rotate(0) scale(0.02)" font-size="272.5" text-anchor="end" stroke-width="6" letter-spacing="-7.5">25</text><text transform="translate(27.5 260.1) rotate(0) scale(0.02)" font-size="272.5" text-anchor="middle" stroke-width="6" letter-spacing="-7.5">0</text><text transform="translate(46.27 260.1) rotate(0) scale(0.02)" font-size="272.5" text-anchor="middle" stroke-width="6" letter-spacing="-7.5">10</text><text transform="translate(65.04 260.1) rotate(0) scale(0.02)" font-size="272.5" text-anchor="middle" stroke-width="6" letter-spacing="-7.5">20</text><text transform="translate(83.81 260.1) rotate(0) scale(0.02)" font-size="272.5" text-anchor="middle" stroke-width="6" letter-spacing="-7.5">30</text><text transform="translate(102.58 260.1) rotate(0) scale(0.02)" font-size="272.5" text-anchor="middle" stroke-width="6" letter-spacing="-7.5">40</text><text transform="translate(121.35 260.1) rotate(0) scale(0.02)" font-size="272.5" text-anchor="middle" stroke-width="6" letter-spacing="-7.5">50</text><text transform="translate(140.12 260.1) rotate(0) scale(0.02)" font-size="272.5" text-anchor="middle" stroke-width="6" letter-spacing="-7.5">60</text><text transform="translate(158.88 260.1) rotate(0) scale(0.02)" font-size="272.5" text-anchor="middle" stroke-width="6" letter-spacing="-7.5">70</text><text transform="translate(100.7 267.9) rotate(0) scale(0.02)" font-size="292.5" text-anchor="middle" stroke-width="6">Sample Number</text><text transform="translate(100.7 147.1) rotate(0) scale(0.02)" font-size="335" text-anchor="middle" stroke-width="6">Gesture 4</text><text transform="translate(10.9 202.05) rotate(-90) scale(0.02)" font-size="292.5" text-anchor="middle" class="it" stroke-width="6">M/Sec<tspan font-size="204.75" dy="-105.3" font-style="normal">2</tspan></text><rect x="146.9" y="226.6" width="24.8" height="24.6" rx="1" fill="#fff" fill-opacity="0.8" stroke="#ccc" stroke-width="0.5"/><path d="M148.5 230.6H159.5" stroke="#1f77b4" stroke-opacity="0.8" stroke-width="1"/><text transform="translate(162.9 232.3) rotate(0) scale(0.02)" font-size="270" class="lg" stroke-width="5">ax</text><path d="M148.5 238.2H159.5" stroke="#ff7f0e" stroke-opacity="0.8" stroke-width="1"/><text transform="translate(162.9 239.9) rotate(0) scale(0.02)" font-size="270" class="lg" stroke-width="5">ay</text><path d="M148.5 245.8H159.5" stroke="#2ca02c" stroke-opacity="0.8" stroke-width="1"/><text transform="translate(162.9 247.5) rotate(0) scale(0.02)" font-size="270" class="lg" stroke-width="5">az</text></g>
<g><g clip-path="url(#c4)" fill="none" stroke-width="1" stroke-opacity="0.8" stroke-linejoin="round" stroke-linecap="round"><path d="M201 208.18C201.48 208.12 202.75 207.55 203.86 207.8C204.98 208.05 206.41 208.91 207.68 209.71C208.95 210.5 210.23 212.57 211.5 212.57C212.77 212.57 214.2 210.6 215.32 209.71C216.43 208.82 217.4 207.85 218.18 207.23C218.96 206.61 219.44 206.63 220 206C220.56 205.37 221 204.3 221.53 203.45C222.06 202.61 222.59 201.44 223.18 200.91C223.78 200.38 224.56 200.91 225.09 200.27C225.62 199.64 225.9 198.47 226.36 197.09C226.83 195.71 227.42 193.38 227.89 192C228.36 190.62 228.68 189.67 229.16 188.82C229.65 187.97 230.33 187.65 230.82 186.91C231.31 186.17 231.67 185.53 232.09 184.36C232.52 183.2 232.94 181.29 233.36 179.91C233.79 178.53 234.21 177.26 234.64 176.09C235.06 174.92 235.42 173.61 235.91 172.91C236.4 172.21 237.08 172.1 237.56 171.89C238.05 171.68 238.48 171.15 238.84 171.64C239.2 172.12 239.37 173.55 239.73 174.82C240.09 176.09 240.64 178.11 241 179.27C241.36 180.44 241.62 181.29 241.89 181.82C242.17 182.35 242.38 182.56 242.65 182.45C242.93 182.35 243.25 182.35 243.55 181.18C243.84 180.02 244.12 177.58 244.44 175.45C244.75 173.33 245.12 170.32 245.45 168.45C245.79 166.59 246.09 164.83 246.47 164.25C246.85 163.68 247.32 164.85 247.75 165.02C248.17 165.19 248.59 165.76 249.02 165.27C249.44 164.78 249.87 163.19 250.29 162.09C250.72 160.99 251.14 159.14 251.56 158.65C251.99 158.17 252.48 158.59 252.84 159.16C253.2 159.74 253.43 161.07 253.73 162.09C254.02 163.11 254.3 164.21 254.62 165.27C254.94 166.33 255.3 167.71 255.64 168.45C255.98 169.2 256.23 169.62 256.65 169.73C257.08 169.83 257.61 169.24 258.18 169.09C258.75 168.94 259.45 168.73 260.09 168.84C260.73 168.94 261.36 169.37 262 169.73C262.64 170.09 263.38 170.36 263.91 171C264.44 171.64 264.76 172.48 265.18 173.55C265.61 174.61 266.03 175.98 266.45 177.36C266.88 178.74 267.3 180.23 267.73 181.82C268.15 183.41 268.62 185.85 269 186.91C269.38 187.97 269.74 188.3 270.02 188.18C270.3 188.07 270.09 185.92 270.68 186.23C271.27 186.54 272.84 188.3 273.55 190.05C274.25 191.8 274.2 194.5 274.91 196.73C275.61 198.95 276.66 202.77 277.77 203.41C278.89 204.05 280.48 200.39 281.59 200.55C282.7 200.7 283.34 202.77 284.45 204.36C285.57 205.95 287 208.34 288.27 210.09C289.55 211.84 290.82 214.39 292.09 214.86C293.36 215.34 294.48 212.86 295.91 212.95C297.34 213.05 299.09 215.28 300.68 215.44C302.27 215.6 304.02 214.48 305.45 213.91C306.89 213.34 308.16 212.48 309.27 212C310.39 211.52 311.18 212 312.14 211.05C313.09 210.09 314.05 206.91 315 206.27C315.95 205.64 316.91 208.02 317.86 207.23C318.82 206.43 319.77 202.45 320.73 201.5C321.68 200.55 322.48 203 323.59 201.5C324.7 200 326.3 193.32 327.41 192.53C328.52 191.73 329.16 195.71 330.27 196.73C331.39 197.75 332.98 197.68 334.09 198.64C335.2 199.59 335.84 202.61 336.95 202.45C338.07 202.3 339.66 198 340.77 197.68C341.89 197.36 342.68 199.59 343.64 200.55C344.59 201.5 345.77 203.25 346.5 203.41C347.23 203.57 347.77 201.82 348.03 201.5" stroke="#1f77b4"/><path d="M201 186.23C201.48 186.86 202.91 188.45 203.86 190.05C204.82 191.64 205.61 193.55 206.73 195.77C207.84 198 209.27 201.72 210.55 203.41C211.82 205.1 213.09 205.25 214.36 205.89C215.64 206.53 217.24 206.89 218.18 207.23C219.12 207.56 219.38 207.58 220 207.91C220.62 208.23 221.27 208.65 221.91 209.18C222.55 209.71 223.25 210.56 223.82 211.09C224.39 211.62 224.82 212.36 225.35 212.36C225.88 212.36 226.45 211.73 227 211.09C227.55 210.45 228.12 209.39 228.65 208.55C229.18 207.7 229.67 206.95 230.18 206C230.69 205.05 231.18 204.2 231.71 202.82C232.24 201.44 232.88 199.32 233.36 197.73C233.85 196.14 234.21 194.86 234.64 193.27C235.06 191.68 235.48 189.67 235.91 188.18C236.33 186.7 236.76 185.17 237.18 184.36C237.61 183.56 237.92 183.56 238.45 183.35C238.98 183.13 239.83 183.35 240.36 183.09C240.89 182.84 241.25 182.24 241.64 181.82C242.02 181.39 242.27 180.44 242.65 180.55C243.04 180.65 243.5 182.35 243.93 182.45C244.35 182.56 244.73 181.61 245.2 181.18C245.67 180.76 246.26 180.76 246.73 179.91C247.19 179.06 247.58 177.26 248 176.09C248.42 174.92 248.85 173.97 249.27 172.91C249.7 171.85 250.12 170.47 250.55 169.73C250.97 168.98 251.35 168.6 251.82 168.45C252.28 168.31 252.82 168.41 253.35 168.84C253.88 169.26 254.41 170.11 255 171C255.59 171.89 256.27 173.12 256.91 174.18C257.55 175.24 258.18 176.3 258.82 177.36C259.45 178.42 260.09 179.38 260.73 180.55C261.36 181.71 262 183.09 262.64 184.36C263.27 185.64 263.91 186.91 264.55 188.18C265.18 189.45 265.86 190.62 266.45 192C267.05 193.38 267.52 195.18 268.11 196.45C268.7 197.73 269.59 199.21 270.02 199.64C270.45 200.06 270.09 198.8 270.68 199.02C271.27 199.23 272.52 200.2 273.55 200.93C274.57 201.66 275.64 203.63 276.82 203.41C278 203.19 279.36 200.39 280.64 199.59C281.91 198.8 283.18 198 284.45 198.64C285.73 199.27 287 202.3 288.27 203.41C289.55 204.52 290.82 205.1 292.09 205.32C293.36 205.54 294.64 205.06 295.91 204.75C297.18 204.43 298.3 203.7 299.73 203.41C301.16 203.12 303.07 203.44 304.5 203.03C305.93 202.61 307.05 201.18 308.32 200.93C309.59 200.67 310.96 201.09 312.14 201.5C313.31 201.91 314.43 204.2 315.38 203.41C316.34 202.61 316.97 199.75 317.86 196.73C318.75 193.7 319.77 188.77 320.73 185.27C321.68 181.77 322.64 178.43 323.59 175.73C324.55 173.02 325.66 170.48 326.45 169.05C327.25 167.61 327.57 166.98 328.36 167.14C329.16 167.3 330.11 168.89 331.23 170C332.34 171.11 333.77 172.93 335.05 173.82C336.32 174.71 337.75 175.19 338.86 175.35C339.98 175.5 340.77 174.23 341.73 174.77C342.68 175.31 343.54 177.32 344.59 178.59C345.64 179.86 347.45 181.77 348.03 182.41" stroke="#ff7f0e"/><path d="M201 209.14C201.8 209.14 204.5 208.91 205.77 209.14C207.05 209.36 207.68 209.84 208.64 210.47C209.59 211.11 210.39 213.08 211.5 212.95C212.61 212.83 214.05 211.3 215.32 209.71C216.59 208.12 218.36 205.09 219.14 203.41C219.92 201.73 219.64 201.33 220 199.64C220.36 197.95 220.85 195.39 221.27 193.27C221.7 191.15 222.08 189.03 222.55 186.91C223.01 184.79 223.54 182.56 224.07 180.55C224.6 178.53 225.18 176.09 225.73 174.82C226.28 173.55 226.81 173.55 227.38 172.91C227.95 172.27 228.48 171.85 229.16 171C229.84 170.15 230.75 168.56 231.45 167.82C232.15 167.08 232.73 166.86 233.36 166.55C234 166.23 234.64 166.44 235.27 165.91C235.91 165.38 236.65 163.26 237.18 163.36C237.71 163.47 238.03 165.17 238.45 166.55C238.88 167.92 239.3 169.94 239.73 171.64C240.15 173.33 240.64 175.56 241 176.73C241.36 177.89 241.57 178.95 241.89 178.64C242.21 178.32 242.53 176.52 242.91 174.82C243.29 173.12 243.76 169.94 244.18 168.45C244.61 166.97 245.03 165.8 245.45 165.91C245.88 166.02 246.3 167.5 246.73 169.09C247.15 170.68 247.58 173.33 248 175.45C248.42 177.58 248.85 179.91 249.27 181.82C249.7 183.73 250.12 185 250.55 186.91C250.97 188.82 251.39 190.94 251.82 193.27C252.24 195.61 252.67 198.58 253.09 200.91C253.52 203.24 253.98 206.11 254.36 207.27C254.75 208.44 255.06 208.33 255.38 207.91C255.7 207.48 255.98 205.68 256.27 204.73C256.57 203.77 256.85 202.39 257.16 202.18C257.48 201.97 257.76 202.82 258.18 203.45C258.61 204.09 259.18 205.36 259.71 206C260.24 206.64 260.77 206.85 261.36 207.27C261.96 207.7 262.64 208.12 263.27 208.55C263.91 208.97 264.65 209.29 265.18 209.82C265.71 210.35 266.03 211.73 266.45 211.73C266.88 211.73 267.3 210.24 267.73 209.82C268.15 209.39 268.62 209.18 269 209.18C269.38 209.18 269.58 208.87 270.02 209.82C270.46 210.77 270.98 212.91 271.64 214.86C272.29 216.82 273.22 219.95 273.93 221.55C274.63 223.14 274.9 223.61 275.86 224.41C276.82 225.2 278.57 226.95 279.68 226.32C280.8 225.68 281.59 222.34 282.55 220.59C283.5 218.84 284.3 217.25 285.41 215.82C286.52 214.39 287.95 213.11 289.23 212C290.5 210.89 291.77 209.77 293.05 209.14C294.32 208.5 295.43 208.5 296.86 208.18C298.3 207.86 300.2 207.86 301.64 207.23C303.07 206.59 304.18 205.41 305.45 204.36C306.73 203.31 308 201.09 309.27 200.93C310.55 200.77 311.98 203.31 313.09 203.41C314.2 203.5 315.06 202.93 315.95 201.5C316.85 200.07 317.48 195.45 318.44 194.82C319.39 194.18 320.66 197.68 321.68 197.68C322.7 197.68 323.59 195.77 324.55 194.82C325.5 193.86 326.45 192.97 327.41 191.95C328.36 190.94 329.16 188.55 330.27 188.71C331.39 188.87 332.82 191.64 334.09 192.91C335.36 194.18 336.64 195.71 337.91 196.35C339.18 196.98 340.61 196.28 341.73 196.73C342.84 197.17 343.54 198.38 344.59 199.02C345.64 199.65 347.45 200.29 348.03 200.55" stroke="#2ca02c"/></g><rect x="201" y="149.5" width="146.2" height="103.9" fill="none" stroke="#000" stroke-width="0.32"/><path d="M199.7 253.4H201M199.7 241.86H201M199.7 230.31H201M199.7 218.77H201M199.7 207.22H201M199.7 195.68H201M199.7 184.13H201M199.7 172.59H201M199.7 161.04H201M199.7 149.5H201M201 253.4V254.7M218.4 253.4V254.7M235.81 253.4V254.7M253.21 253.4V254.7M270.62 253.4V254.7M288.02 253.4V254.7M305.43 253.4V254.7M322.83 253.4V254.7M340.24 253.4V254.7" stroke="#000" stroke-width="0.32"/><text transform="translate(198.4 255.69) rotate(0) scale(0.02)" font-size="272.5" text-anchor="end" stroke-width="6" letter-spacing="-7.5">−20</text><text transform="translate(198.4 244.14) rotate(0) scale(0.02)" font-size="272.5" text-anchor="end" stroke-width="6" letter-spacing="-7.5">−15</text><text transform="translate(198.4 232.6) rotate(0) scale(0.02)" font-size="272.5" text-anchor="end" stroke-width="6" letter-spacing="-7.5">−10</text><text transform="translate(198.4 221.06) rotate(0) scale(0.02)" font-size="272.5" text-anchor="end" stroke-width="6" letter-spacing="-7.5">−5</text><text transform="translate(198.4 209.51) rotate(0) scale(0.02)" font-size="272.5" text-anchor="end" stroke-width="6" letter-spacing="-7.5">0</text><text transform="translate(198.4 197.97) rotate(0) scale(0.02)" font-size="272.5" text-anchor="end" stroke-width="6" letter-spacing="-7.5">5</text><text transform="translate(198.4 186.42) rotate(0) scale(0.02)" font-size="272.5" text-anchor="end" stroke-width="6" letter-spacing="-7.5">10</text><text transform="translate(198.4 174.88) rotate(0) scale(0.02)" font-size="272.5" text-anchor="end" stroke-width="6" letter-spacing="-7.5">15</text><text transform="translate(198.4 163.33) rotate(0) scale(0.02)" font-size="272.5" text-anchor="end" stroke-width="6" letter-spacing="-7.5">20</text><text transform="translate(198.4 151.79) rotate(0) scale(0.02)" font-size="272.5" text-anchor="end" stroke-width="6" letter-spacing="-7.5">25</text><text transform="translate(201 260.1) rotate(0) scale(0.02)" font-size="272.5" text-anchor="middle" stroke-width="6" letter-spacing="-7.5">0</text><text transform="translate(218.4 260.1) rotate(0) scale(0.02)" font-size="272.5" text-anchor="middle" stroke-width="6" letter-spacing="-7.5">10</text><text transform="translate(235.81 260.1) rotate(0) scale(0.02)" font-size="272.5" text-anchor="middle" stroke-width="6" letter-spacing="-7.5">20</text><text transform="translate(253.21 260.1) rotate(0) scale(0.02)" font-size="272.5" text-anchor="middle" stroke-width="6" letter-spacing="-7.5">30</text><text transform="translate(270.62 260.1) rotate(0) scale(0.02)" font-size="272.5" text-anchor="middle" stroke-width="6" letter-spacing="-7.5">40</text><text transform="translate(288.02 260.1) rotate(0) scale(0.02)" font-size="272.5" text-anchor="middle" stroke-width="6" letter-spacing="-7.5">50</text><text transform="translate(305.43 260.1) rotate(0) scale(0.02)" font-size="272.5" text-anchor="middle" stroke-width="6" letter-spacing="-7.5">60</text><text transform="translate(322.83 260.1) rotate(0) scale(0.02)" font-size="272.5" text-anchor="middle" stroke-width="6" letter-spacing="-7.5">70</text><text transform="translate(340.24 260.1) rotate(0) scale(0.02)" font-size="272.5" text-anchor="middle" stroke-width="6" letter-spacing="-7.5">80</text><text transform="translate(274.1 267.9) rotate(0) scale(0.02)" font-size="292.5" text-anchor="middle" stroke-width="6">Sample Number</text><text transform="translate(274.1 147.1) rotate(0) scale(0.02)" font-size="335" text-anchor="middle" stroke-width="6">Gesture 5</text><text transform="translate(184.4 202.05) rotate(-90) scale(0.02)" font-size="292.5" text-anchor="middle" class="it" stroke-width="6">M/Sec<tspan font-size="204.75" dy="-105.3" font-style="normal">2</tspan></text><rect x="320.2" y="226.6" width="24.8" height="24.6" rx="1" fill="#fff" fill-opacity="0.8" stroke="#ccc" stroke-width="0.5"/><path d="M321.8 230.6H332.8" stroke="#1f77b4" stroke-opacity="0.8" stroke-width="1"/><text transform="translate(336.2 232.3) rotate(0) scale(0.02)" font-size="270" class="lg" stroke-width="5">ax</text><path d="M321.8 238.2H332.8" stroke="#ff7f0e" stroke-opacity="0.8" stroke-width="1"/><text transform="translate(336.2 239.9) rotate(0) scale(0.02)" font-size="270" class="lg" stroke-width="5">ay</text><path d="M321.8 245.8H332.8" stroke="#2ca02c" stroke-opacity="0.8" stroke-width="1"/><text transform="translate(336.2 247.5) rotate(0) scale(0.02)" font-size="270" class="lg" stroke-width="5">az</text></g>
<g><g clip-path="url(#c5)" fill="none" stroke-width="1" stroke-opacity="0.8" stroke-linejoin="round" stroke-linecap="round"><path d="M374 211.05C374.8 210.95 377.18 210.31 378.77 210.47C380.36 210.63 382.05 211.27 383.55 212C385.04 212.73 386.47 214.93 387.75 214.86C389.02 214.8 389.97 212.41 391.18 211.62C392.39 210.82 393.73 210.89 395 210.09C396.27 209.3 397.55 207.64 398.82 206.85C400.09 206.05 401.43 205.41 402.64 205.32C403.85 205.22 404.96 207.07 406.07 206.27C407.19 205.48 408.14 201.66 409.32 200.55C410.5 199.43 411.86 199.85 413.14 199.59C414.41 199.34 415.68 198.6 416.95 199.02C418.23 199.43 419.5 201.88 420.77 202.07C422.05 202.26 423.32 200.67 424.59 200.16C425.86 199.65 427.3 199.75 428.41 199.02C429.52 198.29 430.16 197.27 431.27 195.77C432.39 194.28 433.98 190.52 435.09 190.05C436.2 189.57 436.84 192.5 437.95 192.91C439.07 193.32 440.5 192.53 441.77 192.53C443.05 192.53 444.89 192.85 445.59 192.91C446.3 192.97 445.61 192.75 446 192.91C446.39 193.07 447.27 193.07 447.91 193.86C448.55 194.66 449.02 196.95 449.82 197.68C450.61 198.41 451.57 198.16 452.68 198.25C453.8 198.35 455.23 198.57 456.5 198.25C457.77 197.94 459.2 196.6 460.32 196.35C461.43 196.09 462.39 196.41 463.18 196.73C463.98 197.05 464.3 198.41 465.09 198.25C465.89 198.1 466.84 196.41 467.95 195.77C469.07 195.14 470.5 194.6 471.77 194.44C473.05 194.28 474.32 195.07 475.59 194.82C476.86 194.56 478.14 193.8 479.41 192.91C480.68 192.02 481.95 190.05 483.23 189.47C484.5 188.9 485.77 189.15 487.05 189.47C488.32 189.79 489.59 190.97 490.86 191.38C492.14 191.8 493.41 191.38 494.68 191.95C495.95 192.53 497.23 193.86 498.5 194.82C499.77 195.77 501.05 197.36 502.32 197.68C503.59 198 504.86 196.73 506.14 196.73C507.41 196.73 508.68 197.62 509.95 197.68C511.23 197.75 512.5 196.95 513.77 197.11C515.05 197.27 516.38 198.7 517.59 198.64C518.8 198.57 520.45 197.05 521.03 196.73" stroke="#1f77b4"/><path d="M374 184.32C374.95 184.48 377.98 184.86 379.73 185.27C381.48 185.69 383.07 186.32 384.5 186.8C385.93 187.28 387.05 187.28 388.32 188.14C389.59 189 390.7 191.41 392.14 191.95C393.57 192.5 395.16 191.38 396.91 191.38C398.66 191.38 400.89 191.64 402.64 191.95C404.39 192.27 405.98 192.56 407.41 193.29C408.84 194.02 409.95 195.52 411.23 196.35C412.5 197.17 413.77 198.03 415.05 198.25C416.32 198.48 417.59 198 418.86 197.68C420.14 197.36 421.41 196.35 422.68 196.35C423.95 196.35 425.23 197.55 426.5 197.68C427.77 197.81 429.05 197.52 430.32 197.11C431.59 196.7 432.7 195.84 434.14 195.2C435.57 194.56 437.32 193.51 438.91 193.29C440.5 193.07 442.41 193.74 443.68 193.86C444.95 193.99 445.36 193.83 446.55 194.05C447.73 194.28 449.43 194.75 450.77 195.2C452.11 195.65 453.32 196.31 454.59 196.73C455.86 197.14 457.14 197.84 458.41 197.68C459.68 197.52 460.95 196.73 462.23 195.77C463.5 194.82 464.77 193.32 466.05 191.95C467.32 190.59 468.43 188.36 469.86 187.56C471.3 186.77 473.2 187.31 474.64 187.18C476.07 187.05 477.18 187.18 478.45 186.8C479.73 186.42 481 185.53 482.27 184.89C483.55 184.25 484.98 183.49 486.09 182.98C487.2 182.47 488 182.25 488.95 181.84C489.91 181.42 490.86 180.5 491.82 180.5C492.77 180.5 493.73 181.36 494.68 181.84C495.64 182.31 496.43 182.63 497.55 183.36C498.66 184.1 500.09 185.53 501.36 186.23C502.64 186.93 503.59 187.4 505.18 187.56C506.77 187.72 509.16 187.15 510.91 187.18C512.66 187.21 514 187.69 515.68 187.75C517.37 187.82 520.14 187.6 521.03 187.56" stroke="#ff7f0e"/><path d="M374 206.27C374.48 205.89 375.75 204.52 376.86 203.98C377.98 203.44 379.41 203.76 380.68 203.03C381.95 202.3 383.39 201.91 384.5 199.59C385.61 197.27 386.41 192.05 387.36 189.09C388.32 186.13 389.43 183.05 390.23 181.84C391.02 180.63 391.5 180.95 392.14 181.84C392.77 182.73 393.41 185.02 394.05 187.18C394.68 189.35 395.16 192.27 395.95 194.82C396.75 197.36 397.7 200.7 398.82 202.45C399.93 204.2 401.36 204.36 402.64 205.32C403.91 206.27 405.34 206.43 406.45 208.18C407.57 209.93 408.2 213.75 409.32 215.82C410.43 217.89 412.02 218.36 413.14 220.59C414.25 222.82 415.05 226 416 229.18C416.95 232.36 417.91 237.45 418.86 239.68C419.82 241.91 420.77 240.95 421.73 242.55C422.68 244.14 423.64 248.27 424.59 249.23C425.55 250.18 426.5 248.69 427.45 248.27C428.41 247.86 429.36 248.18 430.32 246.75C431.27 245.31 432.23 242.45 433.18 239.68C434.14 236.91 435.09 232.68 436.05 230.14C437 227.59 437.95 225.84 438.91 224.41C439.86 222.98 440.82 223.93 441.77 221.55C442.73 219.16 443.93 212.06 444.64 210.09C445.34 208.12 445.3 210.5 446 209.71C446.7 208.91 447.91 206.85 448.86 205.32C449.82 203.79 450.77 201.91 451.73 200.55C452.68 199.18 453.64 198.13 454.59 197.11C455.55 196.09 456.5 196.41 457.45 194.44C458.41 192.46 459.36 187.91 460.32 185.27C461.27 182.63 462.39 179.8 463.18 178.59C463.98 177.38 464.3 177.48 465.09 178.02C465.89 178.56 467 180.95 467.95 181.84C468.91 182.73 469.86 182.31 470.82 183.36C471.77 184.41 472.73 186.61 473.68 188.14C474.64 189.66 475.59 190.94 476.55 192.53C477.5 194.12 478.3 196.19 479.41 197.68C480.52 199.18 482.11 200.77 483.23 201.5C484.34 202.23 485.14 201.28 486.09 202.07C487.05 202.87 487.84 205.1 488.95 206.27C490.07 207.45 491.5 208.34 492.77 209.14C494.05 209.93 495.48 210.63 496.59 211.05C497.7 211.46 498.5 211.2 499.45 211.62C500.41 212.03 501.36 213.85 502.32 213.53C503.27 213.21 504.23 210.76 505.18 209.71C506.14 208.66 506.93 207.55 508.05 207.23C509.16 206.91 510.59 207.96 511.86 207.8C513.14 207.64 514.57 206.85 515.68 206.27C516.8 205.7 517.65 205 518.55 204.36C519.44 203.73 520.61 202.77 521.03 202.45" stroke="#2ca02c"/></g><rect x="374.5" y="149.5" width="145.9" height="103.9" fill="none" stroke="#000" stroke-width="0.32"/><path d="M373.2 253.4H374.5M373.2 241.86H374.5M373.2 230.31H374.5M373.2 218.77H374.5M373.2 207.22H374.5M373.2 195.68H374.5M373.2 184.13H374.5M373.2 172.59H374.5M373.2 161.04H374.5M373.2 149.5H374.5M374.5 253.4V254.7M401.27 253.4V254.7M428.04 253.4V254.7M454.81 253.4V254.7M481.58 253.4V254.7M508.35 253.4V254.7" stroke="#000" stroke-width="0.32"/><text transform="translate(371.9 255.69) rotate(0) scale(0.02)" font-size="272.5" text-anchor="end" stroke-width="6" letter-spacing="-7.5">−20</text><text transform="translate(371.9 244.14) rotate(0) scale(0.02)" font-size="272.5" text-anchor="end" stroke-width="6" letter-spacing="-7.5">−15</text><text transform="translate(371.9 232.6) rotate(0) scale(0.02)" font-size="272.5" text-anchor="end" stroke-width="6" letter-spacing="-7.5">−10</text><text transform="translate(371.9 221.06) rotate(0) scale(0.02)" font-size="272.5" text-anchor="end" stroke-width="6" letter-spacing="-7.5">−5</text><text transform="translate(371.9 209.51) rotate(0) scale(0.02)" font-size="272.5" text-anchor="end" stroke-width="6" letter-spacing="-7.5">0</text><text transform="translate(371.9 197.97) rotate(0) scale(0.02)" font-size="272.5" text-anchor="end" stroke-width="6" letter-spacing="-7.5">5</text><text transform="translate(371.9 186.42) rotate(0) scale(0.02)" font-size="272.5" text-anchor="end" stroke-width="6" letter-spacing="-7.5">10</text><text transform="translate(371.9 174.88) rotate(0) scale(0.02)" font-size="272.5" text-anchor="end" stroke-width="6" letter-spacing="-7.5">15</text><text transform="translate(371.9 163.33) rotate(0) scale(0.02)" font-size="272.5" text-anchor="end" stroke-width="6" letter-spacing="-7.5">20</text><text transform="translate(371.9 151.79) rotate(0) scale(0.02)" font-size="272.5" text-anchor="end" stroke-width="6" letter-spacing="-7.5">25</text><text transform="translate(374.5 260.1) rotate(0) scale(0.02)" font-size="272.5" text-anchor="middle" stroke-width="6" letter-spacing="-7.5">0</text><text transform="translate(401.27 260.1) rotate(0) scale(0.02)" font-size="272.5" text-anchor="middle" stroke-width="6" letter-spacing="-7.5">20</text><text transform="translate(428.04 260.1) rotate(0) scale(0.02)" font-size="272.5" text-anchor="middle" stroke-width="6" letter-spacing="-7.5">40</text><text transform="translate(454.81 260.1) rotate(0) scale(0.02)" font-size="272.5" text-anchor="middle" stroke-width="6" letter-spacing="-7.5">60</text><text transform="translate(481.58 260.1) rotate(0) scale(0.02)" font-size="272.5" text-anchor="middle" stroke-width="6" letter-spacing="-7.5">80</text><text transform="translate(508.35 260.1) rotate(0) scale(0.02)" font-size="272.5" text-anchor="middle" stroke-width="6" letter-spacing="-7.5">100</text><text transform="translate(447.45 267.9) rotate(0) scale(0.02)" font-size="292.5" text-anchor="middle" stroke-width="6">Sample Number</text><text transform="translate(447.45 147.1) rotate(0) scale(0.02)" font-size="335" text-anchor="middle" stroke-width="6">Gesture 6</text><text transform="translate(357.9 202.05) rotate(-90) scale(0.02)" font-size="292.5" text-anchor="middle" class="it" stroke-width="6">M/Sec<tspan font-size="204.75" dy="-105.3" font-style="normal">2</tspan></text><rect x="493.4" y="226.6" width="24.8" height="24.6" rx="1" fill="#fff" fill-opacity="0.8" stroke="#ccc" stroke-width="0.5"/><path d="M495 230.6H506" stroke="#1f77b4" stroke-opacity="0.8" stroke-width="1"/><text transform="translate(509.4 232.3) rotate(0) scale(0.02)" font-size="270" class="lg" stroke-width="5">ax</text><path d="M495 238.2H506" stroke="#ff7f0e" stroke-opacity="0.8" stroke-width="1"/><text transform="translate(509.4 239.9) rotate(0) scale(0.02)" font-size="270" class="lg" stroke-width="5">ay</text><path d="M495 245.8H506" stroke="#2ca02c" stroke-opacity="0.8" stroke-width="1"/><text transform="translate(509.4 247.5) rotate(0) scale(0.02)" font-size="270" class="lg" stroke-width="5">az</text></g>
<g><g clip-path="url(#c6)" fill="none" stroke-width="1" stroke-opacity="0.8" stroke-linejoin="round" stroke-linecap="round"><path d="M26 339.93C26.48 340.34 27.75 341.68 28.86 342.41C29.98 343.14 31.41 344.16 32.68 344.32C33.95 344.48 35.23 343.36 36.5 343.36C37.77 343.36 39.05 344 40.32 344.32C41.59 344.64 43.02 344.89 44.14 345.27C45.25 345.65 45.89 346.77 47 346.61C48.11 346.45 49.55 344.8 50.82 344.32C52.09 343.84 53.36 344.13 54.64 343.75C55.91 343.36 57.34 342.66 58.45 342.03C59.57 341.39 60.36 340.72 61.32 339.93C62.27 339.13 63.23 338.27 64.18 337.25C65.14 336.24 66.09 334.33 67.05 333.82C68 333.31 68.95 335.47 69.91 334.2C70.86 332.93 71.82 328.54 72.77 326.18C73.73 323.83 74.68 321.35 75.64 320.07C76.59 318.8 77.7 319.12 78.5 318.55C79.3 317.97 79.77 316.57 80.41 316.64C81.05 316.7 81.36 318.93 82.32 318.93C83.27 318.93 84.86 316.64 86.14 316.64C87.41 316.64 88.68 318.45 89.95 318.93C91.23 319.4 92.5 318.93 93.77 319.5C95.05 320.07 96.89 321.89 97.59 322.36C98.3 322.84 97.61 322.2 98 322.36C98.39 322.52 99.11 323.8 99.91 323.32C100.7 322.84 101.82 320.04 102.77 319.5C103.73 318.96 104.52 320.55 105.64 320.07C106.75 319.6 108.25 317.05 109.45 316.64C110.66 316.22 111.94 317.97 112.89 317.59C113.85 317.21 114.48 315.4 115.18 314.35C115.88 313.3 116.3 311.23 117.09 311.29C117.89 311.35 119 313.36 119.95 314.73C120.91 316.1 121.86 317.43 122.82 319.5C123.77 321.57 124.73 324.91 125.68 327.14C126.64 329.36 127.43 331.05 128.55 332.86C129.66 334.68 131.25 336.9 132.36 338.02C133.48 339.13 134.27 339.55 135.23 339.55C136.18 339.55 136.98 337.86 138.09 338.02C139.2 338.18 140.64 339.45 141.91 340.5C143.18 341.55 144.45 343.14 145.73 344.32C147 345.5 148.27 346.93 149.55 347.56C150.82 348.2 152.09 348.2 153.36 348.14C154.64 348.07 155.91 347.4 157.18 347.18C158.45 346.96 159.57 347.12 161 346.8C162.43 346.48 164.34 345.59 165.77 345.27C167.2 344.95 168.38 344.83 169.59 344.89C170.8 344.95 172.45 345.53 173.03 345.65" stroke="#1f77b4"/><path d="M26 318.93C26.64 319.12 28.55 319.5 29.82 320.07C31.09 320.65 32.52 321.5 33.64 322.36C34.75 323.22 35.39 324.27 36.5 325.23C37.61 326.18 39.05 326.91 40.32 328.09C41.59 329.27 42.86 331.02 44.14 332.29C45.41 333.56 46.52 334.68 47.95 335.73C49.39 336.78 51.14 337.64 52.73 338.59C54.32 339.55 56.07 340.66 57.5 341.45C58.93 342.25 60.2 342.89 61.32 343.36C62.43 343.84 63.23 344 64.18 344.32C65.14 344.64 66.09 345.91 67.05 345.27C68 344.64 68.95 342.25 69.91 340.5C70.86 338.75 71.82 336.84 72.77 334.77C73.73 332.7 74.68 330.16 75.64 328.09C76.59 326.02 77.55 324.27 78.5 322.36C79.45 320.45 80.41 318.07 81.36 316.64C82.32 315.2 83.27 314.73 84.23 313.77C85.18 312.82 86.14 311.7 87.09 310.91C88.05 310.11 88.84 309.22 89.95 309C91.07 308.78 92.5 309.32 93.77 309.57C95.05 309.83 96.89 310.37 97.59 310.53C98.3 310.69 97.3 310.46 98 310.53C98.7 310.59 100.55 310.69 101.82 310.91C103.09 311.13 104.36 311.55 105.64 311.86C106.91 312.18 108.18 312.34 109.45 312.82C110.73 313.3 112 313.93 113.27 314.73C114.55 315.52 115.98 316.32 117.09 317.59C118.2 318.86 119.06 320.45 119.95 322.36C120.85 324.27 121.64 326.82 122.44 329.05C123.23 331.27 123.87 333.72 124.73 335.73C125.59 337.73 126.48 339.74 127.59 341.07C128.7 342.41 130.14 343.2 131.41 343.75C132.68 344.29 133.95 344.45 135.23 344.32C136.5 344.19 137.77 343.71 139.05 342.98C140.32 342.25 141.59 340.75 142.86 339.93C144.14 339.1 145.25 338.72 146.68 338.02C148.11 337.32 149.86 336.59 151.45 335.73C153.05 334.87 154.64 333.82 156.23 332.86C157.82 331.91 159.41 330.86 161 330C162.59 329.14 164.34 328.35 165.77 327.71C167.2 327.07 168.38 326.5 169.59 326.18C170.8 325.86 172.45 325.86 173.03 325.8" stroke="#ff7f0e"/><path d="M26 347.56C26.48 348.14 27.91 351.22 28.86 351C29.82 350.78 30.61 347.66 31.73 346.23C32.84 344.8 34.43 342.89 35.55 342.41C36.66 341.93 37.3 342.82 38.41 343.36C39.52 343.9 40.95 345.08 42.23 345.65C43.5 346.23 44.93 346.39 46.05 346.8C47.16 347.21 47.95 347.12 48.91 348.14C49.86 349.15 50.82 351.64 51.77 352.91C52.73 354.18 53.68 354.98 54.64 355.77C55.59 356.57 56.55 356.95 57.5 357.68C58.45 358.41 59.41 360.32 60.36 360.16C61.32 360 62.27 358.57 63.23 356.73C64.18 354.88 65.14 351.48 66.09 349.09C67.05 346.7 68 343.84 68.95 342.41C69.91 340.98 70.86 340.5 71.82 340.5C72.77 340.5 73.73 343.52 74.68 342.41C75.64 341.3 76.59 336.36 77.55 333.82C78.5 331.27 79.45 328.57 80.41 327.14C81.36 325.7 82.16 325.64 83.27 325.23C84.39 324.81 85.98 324.18 87.09 324.65C88.2 325.13 89 326.56 89.95 328.09C90.91 329.62 91.7 332.07 92.82 333.82C93.93 335.57 95.68 337.32 96.64 338.59C97.59 339.86 97.84 340.34 98.55 341.45C99.25 342.57 100.16 343.68 100.86 345.27C101.57 346.86 101.98 350.2 102.77 351C103.57 351.8 104.68 349.73 105.64 350.05C106.59 350.36 107.55 351.95 108.5 352.91C109.45 353.86 110.41 355.71 111.36 355.77C112.32 355.84 113.27 353.61 114.23 353.29C115.18 352.97 116.14 354.56 117.09 353.86C118.05 353.16 119 351.16 119.95 349.09C120.91 347.02 121.86 343.36 122.82 341.45C123.77 339.55 124.57 338.91 125.68 337.64C126.8 336.36 128.23 335.03 129.5 333.82C130.77 332.61 132.2 330.38 133.32 330.38C134.43 330.38 135.23 332.55 136.18 333.82C137.14 335.09 137.93 337.22 139.05 338.02C140.16 338.81 141.59 338.72 142.86 338.59C144.14 338.46 145.41 337.57 146.68 337.25C147.95 336.94 149.23 337 150.5 336.68C151.77 336.36 153.05 335.44 154.32 335.35C155.59 335.25 156.86 335.47 158.14 336.11C159.41 336.75 160.68 338.53 161.95 339.16C163.23 339.8 164.5 339.93 165.77 339.93C167.05 339.93 168.38 339.39 169.59 339.16C170.8 338.94 172.45 338.69 173.03 338.59" stroke="#2ca02c"/></g><rect x="26.15" y="288.5" width="146.1" height="104" fill="none" stroke="#000" stroke-width="0.32"/><path d="M24.85 392.5H26.15M24.85 380.94H26.15M24.85 369.39H26.15M24.85 357.83H26.15M24.85 346.28H26.15M24.85 334.72H26.15M24.85 323.17H26.15M24.85 311.61H26.15M24.85 300.06H26.15M24.85 288.5H26.15M26.15 392.5V393.8M46.16 392.5V393.8M66.18 392.5V393.8M86.19 392.5V393.8M106.2 392.5V393.8M126.22 392.5V393.8M146.23 392.5V393.8M166.25 392.5V393.8" stroke="#000" stroke-width="0.32"/><text transform="translate(23.55 394.79) rotate(0) scale(0.02)" font-size="272.5" text-anchor="end" stroke-width="6" letter-spacing="-7.5">−20</text><text transform="translate(23.55 383.23) rotate(0) scale(0.02)" font-size="272.5" text-anchor="end" stroke-width="6" letter-spacing="-7.5">−15</text><text transform="translate(23.55 371.68) rotate(0) scale(0.02)" font-size="272.5" text-anchor="end" stroke-width="6" letter-spacing="-7.5">−10</text><text transform="translate(23.55 360.12) rotate(0) scale(0.02)" font-size="272.5" text-anchor="end" stroke-width="6" letter-spacing="-7.5">−5</text><text transform="translate(23.55 348.57) rotate(0) scale(0.02)" font-size="272.5" text-anchor="end" stroke-width="6" letter-spacing="-7.5">0</text><text transform="translate(23.55 337.01) rotate(0) scale(0.02)" font-size="272.5" text-anchor="end" stroke-width="6" letter-spacing="-7.5">5</text><text transform="translate(23.55 325.46) rotate(0) scale(0.02)" font-size="272.5" text-anchor="end" stroke-width="6" letter-spacing="-7.5">10</text><text transform="translate(23.55 313.9) rotate(0) scale(0.02)" font-size="272.5" text-anchor="end" stroke-width="6" letter-spacing="-7.5">15</text><text transform="translate(23.55 302.34) rotate(0) scale(0.02)" font-size="272.5" text-anchor="end" stroke-width="6" letter-spacing="-7.5">20</text><text transform="translate(23.55 290.79) rotate(0) scale(0.02)" font-size="272.5" text-anchor="end" stroke-width="6" letter-spacing="-7.5">25</text><text transform="translate(26.15 399.2) rotate(0) scale(0.02)" font-size="272.5" text-anchor="middle" stroke-width="6" letter-spacing="-7.5">0</text><text transform="translate(46.16 399.2) rotate(0) scale(0.02)" font-size="272.5" text-anchor="middle" stroke-width="6" letter-spacing="-7.5">10</text><text transform="translate(66.18 399.2) rotate(0) scale(0.02)" font-size="272.5" text-anchor="middle" stroke-width="6" letter-spacing="-7.5">20</text><text transform="translate(86.19 399.2) rotate(0) scale(0.02)" font-size="272.5" text-anchor="middle" stroke-width="6" letter-spacing="-7.5">30</text><text transform="translate(106.2 399.2) rotate(0) scale(0.02)" font-size="272.5" text-anchor="middle" stroke-width="6" letter-spacing="-7.5">40</text><text transform="translate(126.22 399.2) rotate(0) scale(0.02)" font-size="272.5" text-anchor="middle" stroke-width="6" letter-spacing="-7.5">50</text><text transform="translate(146.23 399.2) rotate(0) scale(0.02)" font-size="272.5" text-anchor="middle" stroke-width="6" letter-spacing="-7.5">60</text><text transform="translate(166.25 399.2) rotate(0) scale(0.02)" font-size="272.5" text-anchor="middle" stroke-width="6" letter-spacing="-7.5">70</text><text transform="translate(99.2 407) rotate(0) scale(0.02)" font-size="292.5" text-anchor="middle" stroke-width="6">Sample Number</text><text transform="translate(99.2 286.1) rotate(0) scale(0.02)" font-size="335" text-anchor="middle" stroke-width="6">Gesture 7</text><text transform="translate(9.55 341.1) rotate(-90) scale(0.02)" font-size="292.5" text-anchor="middle" class="it" stroke-width="6">M/Sec<tspan font-size="204.75" dy="-105.3" font-style="normal">2</tspan></text><rect x="145.25" y="365.7" width="24.8" height="24.6" rx="1" fill="#fff" fill-opacity="0.8" stroke="#ccc" stroke-width="0.5"/><path d="M146.85 369.7H157.85" stroke="#1f77b4" stroke-opacity="0.8" stroke-width="1"/><text transform="translate(161.25 371.4) rotate(0) scale(0.02)" font-size="270" class="lg" stroke-width="5">ax</text><path d="M146.85 377.3H157.85" stroke="#ff7f0e" stroke-opacity="0.8" stroke-width="1"/><text transform="translate(161.25 379) rotate(0) scale(0.02)" font-size="270" class="lg" stroke-width="5">ay</text><path d="M146.85 384.9H157.85" stroke="#2ca02c" stroke-opacity="0.8" stroke-width="1"/><text transform="translate(161.25 386.6) rotate(0) scale(0.02)" font-size="270" class="lg" stroke-width="5">az</text></g>
<g><g clip-path="url(#c7)" fill="none" stroke-width="1" stroke-opacity="0.8" stroke-linejoin="round" stroke-linecap="round"><path d="M199 342.03C199.48 342.25 200.91 343.4 201.86 343.36C202.82 343.33 203.61 341.93 204.73 341.84C205.84 341.74 207.27 342.92 208.55 342.79C209.82 342.66 211.35 340.82 212.36 341.07C213.38 341.33 213.86 345.37 214.65 344.32C215.45 343.27 216.4 337.32 217.14 334.77C217.87 332.23 218.31 329.59 219.05 329.05C219.78 328.5 220.73 330.25 221.53 331.53C222.32 332.8 222.8 335.19 223.82 336.68C224.84 338.18 226.52 340.34 227.64 340.5C228.75 340.66 229.7 337.95 230.5 337.64C231.3 337.32 231.77 337 232.41 338.59C233.05 340.18 233.52 344.64 234.32 347.18C235.11 349.73 236.07 352.02 237.18 353.86C238.3 355.71 239.73 357.94 241 358.25C242.27 358.57 243.7 356.82 244.82 355.77C245.93 354.72 246.82 353.49 247.68 351.95C248.55 350.42 249.13 348.42 250 346.55C250.87 344.67 252.06 342.42 252.91 340.73C253.76 339.03 254.41 337.45 255.09 336.36C255.77 335.27 256.5 333.94 256.98 334.18C257.47 334.42 257.59 338.42 258 337.82C258.41 337.21 258.97 332.97 259.45 330.55C259.94 328.12 260.42 323.52 260.91 323.27C261.39 323.03 261.95 326.55 262.36 329.09C262.78 331.64 263.02 338.55 263.38 338.55C263.75 338.55 264.16 331.88 264.55 329.09C264.93 326.3 265.27 321.33 265.71 321.82C266.15 322.3 266.75 329.94 267.16 332C267.58 334.06 267.82 335.15 268.18 334.18C268.55 333.21 268.98 328.48 269.35 326.18C269.71 323.88 270 320.48 270.36 320.36C270.73 320.24 271.16 324 271.53 325.45C271.89 326.91 272.13 328.97 272.55 329.09C272.96 329.21 273.52 326.42 274 326.18C274.48 325.94 274.97 327.15 275.45 327.64C275.94 328.12 276.3 329.33 276.91 329.09C277.52 328.85 278.36 326.55 279.09 326.18C279.82 325.82 280.55 326.55 281.27 326.91C282 327.27 282.73 328 283.45 328.36C284.18 328.73 284.91 328.73 285.64 329.09C286.36 329.45 287.09 330.18 287.82 330.55C288.55 330.91 289.62 331.3 290 331.27C290.38 331.25 289.6 330.12 290.09 330.38C290.58 330.65 292 332.29 292.95 332.86C293.91 333.44 294.7 333.5 295.82 333.82C296.93 334.14 298.36 334.39 299.64 334.77C300.91 335.15 302.18 335.79 303.45 336.11C304.73 336.43 305.84 336.49 307.27 336.68C308.7 336.87 310.61 336.71 312.05 337.25C313.48 337.8 314.75 339.8 315.86 339.93C316.98 340.05 317.77 338.56 318.73 338.02C319.68 337.48 320.64 336.43 321.59 336.68C322.55 336.94 323.34 338.5 324.45 339.55C325.57 340.6 327 342.09 328.27 342.98C329.55 343.87 330.82 344.76 332.09 344.89C333.36 345.02 334.64 343.84 335.91 343.75C337.18 343.65 338.45 344.06 339.73 344.32C341 344.57 342.5 344.8 343.55 345.27C344.6 345.75 345.61 346.86 346.03 347.18" stroke="#1f77b4"/><path d="M199 323.32C199.64 323.41 201.39 323.8 202.82 323.89C204.25 323.99 206.32 323.99 207.59 323.89C208.86 323.8 209.5 324.53 210.45 323.32C211.41 322.11 212.43 319.98 213.32 316.64C214.21 313.3 215.07 307.15 215.8 303.27C216.53 299.39 217.17 295.25 217.71 293.35C218.25 291.44 218.5 291.44 219.05 291.82C219.59 292.2 220.32 293.41 220.95 295.64C221.59 297.86 222.07 301.36 222.86 305.18C223.66 309 224.77 314.73 225.73 318.55C226.68 322.36 227.7 325.07 228.59 328.09C229.48 331.11 230.28 333.98 231.07 336.68C231.87 339.39 232.5 342.31 233.36 344.32C234.22 346.32 235.27 347.85 236.23 348.71C237.18 349.57 238.14 349.66 239.09 349.47C240.05 349.28 241 348.42 241.95 347.56C242.91 346.7 243.86 345.34 244.82 344.32C245.77 343.3 246.82 342.3 247.68 341.45C248.55 340.61 249.13 340.48 250 339.27C250.87 338.06 251.94 335.88 252.91 334.18C253.88 332.48 254.85 330.91 255.82 329.09C256.79 327.27 257.76 325.45 258.73 323.27C259.7 321.09 260.79 318.06 261.64 316C262.48 313.94 263.09 312 263.82 310.91C264.55 309.82 265.27 310.3 266 309.45C266.73 308.61 267.58 305.94 268.18 305.82C268.79 305.7 269.15 307.52 269.64 308.73C270.12 309.94 270.48 311.88 271.09 313.09C271.7 314.3 272.55 315.03 273.27 316C274 316.97 274.73 317.7 275.45 318.91C276.18 320.12 277.03 322.06 277.64 323.27C278.24 324.48 278.48 325.58 279.09 326.18C279.7 326.79 280.42 326.72 281.27 326.91C282.12 327.1 283.21 327.18 284.18 327.35C285.15 327.52 286.12 327.76 287.09 327.93C288.06 328.1 289.18 328.5 290 328.36C290.82 328.23 291.03 327.66 292 327.14C292.97 326.61 294.55 325.64 295.82 325.23C297.09 324.81 298.36 324.97 299.64 324.65C300.91 324.34 302.18 323.95 303.45 323.32C304.73 322.68 306 321.57 307.27 320.84C308.55 320.1 309.82 319.53 311.09 318.93C312.36 318.32 313.64 317.21 314.91 317.21C316.18 317.21 317.45 318.13 318.73 318.93C320 319.72 321.27 320.93 322.55 321.98C323.82 323.03 325.09 324.21 326.36 325.23C327.64 326.25 328.91 327.55 330.18 328.09C331.45 328.63 332.73 328.63 334 328.47C335.27 328.31 336.55 327.52 337.82 327.14C339.09 326.75 340.27 326.4 341.64 326.18C343 325.96 345.3 325.86 346.03 325.8" stroke="#ff7f0e"/><path d="M199 345.27C199.64 345.34 201.39 345.81 202.82 345.65C204.25 345.5 206 344.86 207.59 344.32C209.18 343.78 211.09 343.05 212.36 342.41C213.64 341.77 214.43 341.3 215.23 340.5C216.02 339.7 216.5 337.41 217.14 337.64C217.77 337.86 218.25 339.86 219.05 341.84C219.84 343.81 220.95 348.26 221.91 349.47C222.86 350.68 223.82 349.22 224.77 349.09C225.73 348.96 226.52 348.71 227.64 348.71C228.75 348.71 230.34 350.94 231.45 349.09C232.57 347.25 233.36 340.02 234.32 337.64C235.27 335.25 236.07 335.03 237.18 334.77C238.3 334.52 239.73 335.47 241 336.11C242.27 336.75 243.55 337.86 244.82 338.59C246.09 339.32 247.77 340.02 248.64 340.5C249.5 340.98 249.41 341.05 250 341.45C250.59 341.86 251.45 342.3 252.18 342.91C252.91 343.52 253.64 345.33 254.36 345.09C255.09 344.85 255.82 342.42 256.55 341.45C257.27 340.48 258.12 338.79 258.73 339.27C259.33 339.76 259.7 342.18 260.18 344.36C260.67 346.55 261.2 351.76 261.64 352.36C262.07 352.97 262.44 349.33 262.8 348C263.16 346.67 263.41 344.12 263.82 344.36C264.23 344.61 264.79 347.64 265.27 349.45C265.76 351.27 266.32 354.79 266.73 355.27C267.14 355.76 267.43 351.88 267.75 352.36C268.06 352.85 268.3 355.52 268.62 358.18C268.93 360.85 269.3 365.21 269.64 368.36C269.98 371.52 270.29 376.61 270.65 377.09C271.02 377.58 271.45 372.85 271.82 371.27C272.18 369.7 272.47 367.39 272.84 367.64C273.2 367.88 273.64 371.39 274 372.73C274.36 374.06 274.65 376.12 275.02 375.64C275.38 375.15 275.75 371.76 276.18 369.82C276.62 367.88 277.15 365.09 277.64 364C278.12 362.91 278.61 364.73 279.09 363.27C279.58 361.82 280.06 358.06 280.55 355.27C281.03 352.48 281.52 347.76 282 346.55C282.48 345.33 282.97 347.64 283.45 348C283.94 348.36 284.42 349.33 284.91 348.73C285.39 348.12 285.83 345.45 286.36 344.36C286.9 343.27 287.5 343.03 288.11 342.18C288.72 341.33 289.67 339.87 290 339.27C290.33 338.67 289.76 339.18 290.09 338.59C290.42 338 291.36 335.57 292 335.73C292.64 335.89 293.27 339.86 293.91 339.55C294.55 339.23 295.18 334.45 295.82 333.82C296.45 333.18 297.09 336.84 297.73 335.73C298.36 334.61 299 327.61 299.64 327.14C300.27 326.66 300.75 332.7 301.55 332.86C302.34 333.02 303.45 328.41 304.41 328.09C305.36 327.77 306.32 331.34 307.27 330.95C308.23 330.57 309.18 326.12 310.14 325.8C311.09 325.48 312.05 326.75 313 329.05C313.95 331.34 314.91 337.41 315.86 339.55C316.82 341.68 317.77 341.2 318.73 341.84C319.68 342.47 320.64 342.47 321.59 343.36C322.55 344.25 323.5 345.85 324.45 347.18C325.41 348.52 326.2 350.75 327.32 351.38C328.43 352.02 329.86 351.22 331.14 351C332.41 350.78 333.68 350.36 334.95 350.05C336.23 349.73 337.5 349.31 338.77 349.09C340.05 348.87 341.38 348.71 342.59 348.71C343.8 348.71 345.45 349.03 346.03 349.09" stroke="#2ca02c"/></g><rect x="199.5" y="288.5" width="146.1" height="104" fill="none" stroke="#000" stroke-width="0.32"/><path d="M198.2 392.5H199.5M198.2 380.94H199.5M198.2 369.39H199.5M198.2 357.83H199.5M198.2 346.28H199.5M198.2 334.72H199.5M198.2 323.17H199.5M198.2 311.61H199.5M198.2 300.06H199.5M198.2 288.5H199.5M199.5 392.5V393.8M222.15 392.5V393.8M244.8 392.5V393.8M267.45 392.5V393.8M290.1 392.5V393.8M312.76 392.5V393.8M335.41 392.5V393.8" stroke="#000" stroke-width="0.32"/><text transform="translate(196.9 394.79) rotate(0) scale(0.02)" font-size="272.5" text-anchor="end" stroke-width="6" letter-spacing="-7.5">−20</text><text transform="translate(196.9 383.23) rotate(0) scale(0.02)" font-size="272.5" text-anchor="end" stroke-width="6" letter-spacing="-7.5">−15</text><text transform="translate(196.9 371.68) rotate(0) scale(0.02)" font-size="272.5" text-anchor="end" stroke-width="6" letter-spacing="-7.5">−10</text><text transform="translate(196.9 360.12) rotate(0) scale(0.02)" font-size="272.5" text-anchor="end" stroke-width="6" letter-spacing="-7.5">−5</text><text transform="translate(196.9 348.57) rotate(0) scale(0.02)" font-size="272.5" text-anchor="end" stroke-width="6" letter-spacing="-7.5">0</text><text transform="translate(196.9 337.01) rotate(0) scale(0.02)" font-size="272.5" text-anchor="end" stroke-width="6" letter-spacing="-7.5">5</text><text transform="translate(196.9 325.46) rotate(0) scale(0.02)" font-size="272.5" text-anchor="end" stroke-width="6" letter-spacing="-7.5">10</text><text transform="translate(196.9 313.9) rotate(0) scale(0.02)" font-size="272.5" text-anchor="end" stroke-width="6" letter-spacing="-7.5">15</text><text transform="translate(196.9 302.34) rotate(0) scale(0.02)" font-size="272.5" text-anchor="end" stroke-width="6" letter-spacing="-7.5">20</text><text transform="translate(196.9 290.79) rotate(0) scale(0.02)" font-size="272.5" text-anchor="end" stroke-width="6" letter-spacing="-7.5">25</text><text transform="translate(199.5 399.2) rotate(0) scale(0.02)" font-size="272.5" text-anchor="middle" stroke-width="6" letter-spacing="-7.5">0</text><text transform="translate(222.15 399.2) rotate(0) scale(0.02)" font-size="272.5" text-anchor="middle" stroke-width="6" letter-spacing="-7.5">20</text><text transform="translate(244.8 399.2) rotate(0) scale(0.02)" font-size="272.5" text-anchor="middle" stroke-width="6" letter-spacing="-7.5">40</text><text transform="translate(267.45 399.2) rotate(0) scale(0.02)" font-size="272.5" text-anchor="middle" stroke-width="6" letter-spacing="-7.5">60</text><text transform="translate(290.1 399.2) rotate(0) scale(0.02)" font-size="272.5" text-anchor="middle" stroke-width="6" letter-spacing="-7.5">80</text><text transform="translate(312.76 399.2) rotate(0) scale(0.02)" font-size="272.5" text-anchor="middle" stroke-width="6" letter-spacing="-7.5">100</text><text transform="translate(335.41 399.2) rotate(0) scale(0.02)" font-size="272.5" text-anchor="middle" stroke-width="6" letter-spacing="-7.5">120</text><text transform="translate(272.55 407) rotate(0) scale(0.02)" font-size="292.5" text-anchor="middle" stroke-width="6">Sample Number</text><text transform="translate(272.55 286.1) rotate(0) scale(0.02)" font-size="335" text-anchor="middle" stroke-width="6">Gesture 8</text><text transform="translate(182.9 341.1) rotate(-90) scale(0.02)" font-size="292.5" text-anchor="middle" class="it" stroke-width="6">M/Sec<tspan font-size="204.75" dy="-105.3" font-style="normal">2</tspan></text><rect x="318.6" y="365.7" width="24.8" height="24.6" rx="1" fill="#fff" fill-opacity="0.8" stroke="#ccc" stroke-width="0.5"/><path d="M320.2 369.7H331.2" stroke="#1f77b4" stroke-opacity="0.8" stroke-width="1"/><text transform="translate(334.6 371.4) rotate(0) scale(0.02)" font-size="270" class="lg" stroke-width="5">ax</text><path d="M320.2 377.3H331.2" stroke="#ff7f0e" stroke-opacity="0.8" stroke-width="1"/><text transform="translate(334.6 379) rotate(0) scale(0.02)" font-size="270" class="lg" stroke-width="5">ay</text><path d="M320.2 384.9H331.2" stroke="#2ca02c" stroke-opacity="0.8" stroke-width="1"/><text transform="translate(334.6 386.6) rotate(0) scale(0.02)" font-size="270" class="lg" stroke-width="5">az</text></g>
<g><g clip-path="url(#c8)" fill="none" stroke-width="1" stroke-opacity="0.8" stroke-linejoin="round" stroke-linecap="round"><path d="M376 349.09C376.64 349.19 378.39 349.6 379.82 349.66C381.25 349.73 383 349.41 384.59 349.47C386.18 349.54 387.77 350.11 389.36 350.05C390.95 349.98 392.86 348.93 394.14 349.09C395.41 349.25 396.05 350.2 397 351C397.95 351.8 399.36 353.42 399.86 353.86C400.36 354.3 399.7 353.53 400 353.64C400.3 353.74 401.09 354.15 401.64 354.51C402.18 354.87 402.78 355.38 403.27 355.82C403.76 356.25 404.13 357.31 404.58 357.13C405.04 356.95 405.58 355.76 406 354.73C406.42 353.69 406.67 351.82 407.09 350.91C407.51 350 408.02 349.69 408.51 349.27C409 348.85 409.55 348.76 410.04 348.4C410.53 348.04 411.04 347.67 411.45 347.09C411.87 346.51 412.18 345.64 412.55 344.91C412.91 344.18 413.27 343.49 413.64 342.73C414 341.96 414.36 340.96 414.73 340.33C415.09 339.69 415.45 339.2 415.82 338.91C416.18 338.62 416.55 338.49 416.91 338.58C417.27 338.67 417.64 339.13 418 339.45C418.36 339.78 418.73 340.69 419.09 340.55C419.45 340.4 419.82 339.4 420.18 338.58C420.55 337.76 420.95 336.31 421.27 335.64C421.6 334.96 421.87 334.36 422.15 334.55C422.42 334.73 422.64 336 422.91 336.73C423.18 337.45 423.45 339.09 423.78 338.91C424.11 338.73 424.51 336.64 424.87 335.64C425.24 334.64 425.6 333.64 425.96 332.91C426.33 332.18 426.69 331.55 427.05 331.27C427.42 331 427.78 331.73 428.15 331.27C428.51 330.82 428.93 329.36 429.24 328.55C429.55 327.73 429.75 327.05 430 326.36C430.25 325.67 430.49 324.31 430.76 324.4C431.04 324.49 431.35 325.95 431.64 326.91C431.93 327.87 432.18 329.51 432.51 330.18C432.84 330.85 433.24 330.85 433.6 330.95C433.96 331.04 434.33 330.67 434.69 330.73C435.05 330.78 435.38 330.91 435.78 331.27C436.18 331.64 436.6 332.45 437.09 332.91C437.58 333.36 438.24 333.78 438.73 334C439.22 334.22 439.2 334.31 440.04 334.22C440.88 334.12 442.67 333.34 443.77 333.44C444.87 333.53 445.93 334.55 446.64 334.77C447.34 335 447.3 334.61 448 334.77C448.7 334.93 449.91 335.31 450.86 335.73C451.82 336.14 452.77 336.78 453.73 337.25C454.68 337.73 455.64 338.21 456.59 338.59C457.55 338.97 458.34 339.23 459.45 339.55C460.57 339.86 462 340.18 463.27 340.5C464.55 340.82 465.82 340.91 467.09 341.45C468.36 342 469.64 343.43 470.91 343.75C472.18 344.06 473.61 342.47 474.73 343.36C475.84 344.25 477.05 348.2 477.59 349.09C478.14 349.98 477.75 349.06 478 348.73C478.25 348.39 478.69 347.64 479.09 347.09C479.49 346.55 479.95 345.64 480.4 345.45C480.85 345.27 481.4 345.55 481.82 346C482.24 346.45 482.55 348.27 482.91 348.18C483.27 348.09 483.64 346.27 484 345.45C484.36 344.64 484.67 343.82 485.09 343.27C485.51 342.73 486.05 342.09 486.51 342.18C486.96 342.27 487.42 344 487.82 343.82C488.22 343.64 488.55 341.96 488.91 341.09C489.27 340.22 489.64 338.85 490 338.58C490.36 338.31 490.73 339.22 491.09 339.45C491.45 339.69 491.82 340.18 492.18 340C492.55 339.82 492.91 338.73 493.27 338.36C493.64 338 494 337.78 494.36 337.82C494.73 337.85 495.09 338.58 495.45 338.58C495.82 338.58 496.18 338.13 496.55 337.82C496.91 337.51 497.27 336.67 497.64 336.73C498 336.78 498.36 337.69 498.73 338.15C499.09 338.6 499.45 339.6 499.82 339.45C500.18 339.31 500.55 337 500.91 337.27C501.27 337.55 501.64 341.27 502 341.09C502.36 340.91 502.73 337.45 503.09 336.18C503.45 334.91 503.82 333.27 504.18 333.45C504.55 333.64 504.95 335.91 505.27 337.27C505.6 338.64 505.87 340.73 506.15 341.64C506.42 342.55 506.65 343.27 506.91 342.73C507.16 342.18 507.36 339.55 507.67 338.36C507.98 337.18 508.4 335.73 508.76 335.64C509.13 335.55 509.53 337.09 509.85 337.82C510.18 338.55 510.4 339.55 510.73 340C511.05 340.45 511.45 340.73 511.82 340.55C512.18 340.36 512.55 339.36 512.91 338.91C513.27 338.45 513.6 337.82 514 337.82C514.4 337.82 514.91 338.64 515.31 338.91C515.71 339.18 516.04 339.58 516.4 339.45C516.76 339.33 517.13 338.51 517.49 338.15C517.85 337.78 518.22 337.2 518.58 337.27C518.95 337.35 519.31 338.22 519.67 338.58C520.04 338.95 520.38 339.45 520.76 339.45C521.15 339.45 521.75 338.57 521.96 338.58C522.18 338.6 522.05 339.38 522.07 339.55" stroke="#1f77b4"/><path d="M376 323.32C376.95 323.41 379.82 323.83 381.73 323.89C383.64 323.95 385.55 323.7 387.45 323.7C389.36 323.7 391.59 323.64 393.18 323.89C394.77 324.15 395.89 324.53 397 325.23C398.11 325.93 399.36 327.63 399.86 328.09C400.36 328.55 399.7 327.65 400 328C400.3 328.35 401.09 329.55 401.64 330.18C402.18 330.82 402.82 331.4 403.27 331.82C403.73 332.24 403.91 332.78 404.36 332.69C404.82 332.6 405.36 331.69 406 331.27C406.64 330.85 407.45 330.6 408.18 330.18C408.91 329.76 409.64 329.18 410.36 328.76C411.09 328.35 411.82 327.98 412.55 327.67C413.27 327.36 414.09 327.13 414.73 326.91C415.36 326.69 415.87 326.64 416.36 326.36C416.85 326.09 417.16 325.64 417.67 325.27C418.18 324.91 418.82 324.55 419.42 324.18C420.02 323.82 420.69 323.55 421.27 323.09C421.85 322.64 422.36 322.09 422.91 321.45C423.45 320.82 424 319.87 424.55 319.27C425.09 318.67 425.64 318.22 426.18 317.85C426.73 317.49 427.27 317.27 427.82 317.09C428.36 316.91 428.91 316.76 429.45 316.76C430 316.76 430.55 316.76 431.09 317.09C431.64 317.42 432.18 318.09 432.73 318.73C433.27 319.36 433.82 320.18 434.36 320.91C434.91 321.64 435.36 322.4 436 323.09C436.64 323.78 437.51 324.55 438.18 325.05C438.85 325.56 439.42 326.12 440.04 326.15C440.65 326.17 440.92 325.38 441.86 325.23C442.8 325.07 444.57 325.16 445.68 325.23C446.8 325.29 447.36 325.45 448.55 325.61C449.73 325.77 451.27 326.18 452.77 326.18C454.27 326.18 455.95 325.67 457.55 325.61C459.14 325.55 460.73 325.55 462.32 325.8C463.91 326.05 465.5 326.6 467.09 327.14C468.68 327.68 470.43 328.5 471.86 329.05C473.3 329.59 474.66 329.92 475.68 330.38C476.7 330.84 477.25 331.49 478 331.82C478.75 332.15 479.45 332.18 480.18 332.36C480.91 332.55 481.64 332.85 482.36 332.91C483.09 332.96 483.91 332.96 484.55 332.69C485.18 332.42 485.64 331.82 486.18 331.27C486.73 330.73 487.18 330.05 487.82 329.42C488.45 328.78 489.27 328.05 490 327.45C490.73 326.85 491.45 326.36 492.18 325.82C492.91 325.27 493.64 324.64 494.36 324.18C495.09 323.73 495.82 323.36 496.55 323.09C497.27 322.82 498 322.91 498.73 322.55C499.45 322.18 500.27 321.45 500.91 320.91C501.55 320.36 501.91 319.64 502.55 319.27C503.18 318.91 504 318.91 504.73 318.73C505.45 318.55 506.27 318.36 506.91 318.18C507.55 318 508 317.82 508.55 317.64C509.09 317.45 509.64 317.13 510.18 317.09C510.73 317.05 511.27 317.33 511.82 317.42C512.36 317.51 512.91 317.42 513.45 317.64C514 317.85 514.55 318.27 515.09 318.73C515.64 319.18 516.18 319.91 516.73 320.36C517.27 320.82 517.82 321.09 518.36 321.45C518.91 321.82 519.4 322.18 520 322.55C520.6 322.91 521.62 323.51 521.96 323.64C522.31 323.77 522.05 323.37 522.07 323.32" stroke="#ff7f0e"/><path d="M376 345.27C376.64 345.34 378.39 345.75 379.82 345.65C381.25 345.56 383 344.83 384.59 344.7C386.18 344.57 387.93 344.86 389.36 344.89C390.8 344.92 392.07 345.46 393.18 344.89C394.3 344.32 395.09 342.6 396.05 341.45C397 340.31 398.25 338.99 398.91 338.02C399.57 337.05 399.55 336.03 400 335.64C400.45 335.24 401.09 335.45 401.64 335.64C402.18 335.82 402.73 336.73 403.27 336.73C403.82 336.73 404.36 335.87 404.91 335.64C405.45 335.4 406 335.13 406.55 335.31C407.09 335.49 407.64 336.22 408.18 336.73C408.73 337.24 409.27 337.76 409.82 338.36C410.36 338.96 410.91 339.78 411.45 340.33C412 340.87 412.64 341.51 413.09 341.64C413.55 341.76 413.85 341.55 414.18 341.09C414.51 340.64 414.78 338.82 415.05 338.91C415.33 339 415.56 340.64 415.82 341.64C416.07 342.64 416.31 343.91 416.58 344.91C416.85 345.91 417.13 347.27 417.45 347.64C417.78 348 418.18 347.36 418.55 347.09C418.91 346.82 419.31 345.91 419.64 346C419.96 346.09 420.18 346.82 420.51 347.64C420.84 348.45 421.2 350.82 421.6 350.91C422 351 422.55 348.36 422.91 348.18C423.27 348 423.45 349 423.78 349.82C424.11 350.64 424.47 352.09 424.87 353.09C425.27 354.09 425.78 355.55 426.18 355.82C426.58 356.09 426.91 355.09 427.27 354.73C427.64 354.36 428.04 353.27 428.36 353.64C428.69 354 428.91 355.73 429.24 356.91C429.56 358.09 429.93 359.91 430.33 360.73C430.73 361.55 431.27 361.91 431.64 361.82C432 361.73 432.15 360.09 432.51 360.18C432.87 360.27 433.38 361.55 433.82 362.36C434.25 363.18 434.76 364.91 435.13 365.09C435.49 365.27 435.67 364.27 436 363.45C436.33 362.64 436.73 361.09 437.09 360.18C437.45 359.27 437.82 358.58 438.18 358C438.55 357.42 438.96 356.96 439.27 356.69C439.58 356.42 439.76 356.74 440.04 356.36C440.31 355.99 440.13 355.08 440.91 354.44C441.69 353.8 443.61 353.1 444.73 352.53C445.84 351.95 447.05 351.41 447.59 351C448.14 350.59 447.61 351 448 350.05C448.39 349.09 449.11 346.7 449.91 345.27C450.7 343.84 451.98 341.61 452.77 341.45C453.57 341.3 453.89 344.89 454.68 344.32C455.48 343.75 456.43 339.2 457.55 338.02C458.66 336.84 460.09 337.48 461.36 337.25C462.64 337.03 464.07 337.1 465.18 336.68C466.3 336.27 467.09 335.89 468.05 334.77C469 333.66 469.95 331.27 470.91 330C471.86 328.73 472.82 328.03 473.77 327.14C474.73 326.25 475.93 325.24 476.64 324.65C477.34 324.07 477.55 323.62 478 323.64C478.45 323.65 478.85 324.27 479.31 324.73C479.76 325.18 480.25 326.27 480.73 326.36C481.2 326.45 481.69 325.18 482.15 325.27C482.6 325.36 483.05 326.18 483.45 326.91C483.85 327.64 484.22 328.73 484.55 329.64C484.87 330.55 485.09 331.55 485.42 332.36C485.75 333.18 486.11 333.91 486.51 334.55C486.91 335.18 487.42 335.73 487.82 336.18C488.22 336.64 488.55 336.82 488.91 337.27C489.27 337.73 489.64 338.09 490 338.91C490.36 339.73 490.73 341.55 491.09 342.18C491.45 342.82 491.82 342.45 492.18 342.73C492.55 343 492.91 343.36 493.27 343.82C493.64 344.27 494 345.09 494.36 345.45C494.73 345.82 495.09 345.64 495.45 346C495.82 346.36 496.18 347.27 496.55 347.64C496.91 348 497.27 348.18 497.64 348.18C498 348.18 498.36 347.55 498.73 347.64C499.09 347.73 499.45 348.73 499.82 348.73C500.18 348.73 500.58 348.27 500.91 347.64C501.24 347 501.51 345.73 501.78 344.91C502.05 344.09 502.29 342.18 502.55 342.73C502.8 343.27 503.04 346.36 503.31 348.18C503.58 350 503.89 352.09 504.18 353.64C504.47 355.18 504.78 357.09 505.05 357.45C505.33 357.82 505.56 356.73 505.82 355.82C506.07 354.91 506.31 352.91 506.58 352C506.85 351.09 507.16 350.36 507.45 350.36C507.75 350.36 508 351.45 508.33 352C508.65 352.55 509.05 353.82 509.42 353.64C509.78 353.45 510.11 351.73 510.51 350.91C510.91 350.09 511.38 349.18 511.82 348.73C512.25 348.27 512.67 348.45 513.13 348.18C513.58 347.91 514.07 347.45 514.55 347.09C515.02 346.73 515.51 346.33 515.96 346C516.42 345.67 516.84 345.22 517.27 345.13C517.71 345.04 518.13 345.22 518.58 345.45C519.04 345.69 519.58 346.31 520 346.55C520.42 346.78 520.76 346.78 521.09 346.87C521.42 346.96 521.8 347.2 521.96 347.09C522.13 346.98 522.05 346.37 522.07 346.23" stroke="#2ca02c"/></g><rect x="376.2" y="288.5" width="145.2" height="104" fill="none" stroke="#000" stroke-width="0.32"/><path d="M374.9 392.5H376.2M374.9 380.94H376.2M374.9 369.39H376.2M374.9 357.83H376.2M374.9 346.28H376.2M374.9 334.72H376.2M374.9 323.17H376.2M374.9 311.61H376.2M374.9 300.06H376.2M374.9 288.5H376.2M376.2 392.5V393.8M396.51 392.5V393.8M416.82 392.5V393.8M437.12 392.5V393.8M457.43 392.5V393.8M477.74 392.5V393.8M498.05 392.5V393.8M518.35 392.5V393.8" stroke="#000" stroke-width="0.32"/><text transform="translate(373.6 394.79) rotate(0) scale(0.02)" font-size="272.5" text-anchor="end" stroke-width="6" letter-spacing="-7.5">−20</text><text transform="translate(373.6 383.23) rotate(0) scale(0.02)" font-size="272.5" text-anchor="end" stroke-width="6" letter-spacing="-7.5">−15</text><text transform="translate(373.6 371.68) rotate(0) scale(0.02)" font-size="272.5" text-anchor="end" stroke-width="6" letter-spacing="-7.5">−10</text><text transform="translate(373.6 360.12) rotate(0) scale(0.02)" font-size="272.5" text-anchor="end" stroke-width="6" letter-spacing="-7.5">−5</text><text transform="translate(373.6 348.57) rotate(0) scale(0.02)" font-size="272.5" text-anchor="end" stroke-width="6" letter-spacing="-7.5">0</text><text transform="translate(373.6 337.01) rotate(0) scale(0.02)" font-size="272.5" text-anchor="end" stroke-width="6" letter-spacing="-7.5">5</text><text transform="translate(373.6 325.46) rotate(0) scale(0.02)" font-size="272.5" text-anchor="end" stroke-width="6" letter-spacing="-7.5">10</text><text transform="translate(373.6 313.9) rotate(0) scale(0.02)" font-size="272.5" text-anchor="end" stroke-width="6" letter-spacing="-7.5">15</text><text transform="translate(373.6 302.34) rotate(0) scale(0.02)" font-size="272.5" text-anchor="end" stroke-width="6" letter-spacing="-7.5">20</text><text transform="translate(373.6 290.79) rotate(0) scale(0.02)" font-size="272.5" text-anchor="end" stroke-width="6" letter-spacing="-7.5">25</text><text transform="translate(376.2 399.2) rotate(0) scale(0.02)" font-size="272.5" text-anchor="middle" stroke-width="6" letter-spacing="-7.5">0</text><text transform="translate(396.51 399.2) rotate(0) scale(0.02)" font-size="272.5" text-anchor="middle" stroke-width="6" letter-spacing="-7.5">20</text><text transform="translate(416.82 399.2) rotate(0) scale(0.02)" font-size="272.5" text-anchor="middle" stroke-width="6" letter-spacing="-7.5">40</text><text transform="translate(437.12 399.2) rotate(0) scale(0.02)" font-size="272.5" text-anchor="middle" stroke-width="6" letter-spacing="-7.5">60</text><text transform="translate(457.43 399.2) rotate(0) scale(0.02)" font-size="272.5" text-anchor="middle" stroke-width="6" letter-spacing="-7.5">80</text><text transform="translate(477.74 399.2) rotate(0) scale(0.02)" font-size="272.5" text-anchor="middle" stroke-width="6" letter-spacing="-7.5">100</text><text transform="translate(498.05 399.2) rotate(0) scale(0.02)" font-size="272.5" text-anchor="middle" stroke-width="6" letter-spacing="-7.5">120</text><text transform="translate(518.35 399.2) rotate(0) scale(0.02)" font-size="272.5" text-anchor="middle" stroke-width="6" letter-spacing="-7.5">140</text><text transform="translate(448.8 407) rotate(0) scale(0.02)" font-size="292.5" text-anchor="middle" stroke-width="6">Sample Number</text><text transform="translate(448.8 286.1) rotate(0) scale(0.02)" font-size="335" text-anchor="middle" stroke-width="6">Gesture 9</text><text transform="translate(359.6 341.1) rotate(-90) scale(0.02)" font-size="292.5" text-anchor="middle" class="it" stroke-width="6">M/Sec<tspan font-size="204.75" dy="-105.3" font-style="normal">2</tspan></text><rect x="494.4" y="365.7" width="24.8" height="24.6" rx="1" fill="#fff" fill-opacity="0.8" stroke="#ccc" stroke-width="0.5"/><path d="M496 369.7H507" stroke="#1f77b4" stroke-opacity="0.8" stroke-width="1"/><text transform="translate(510.4 371.4) rotate(0) scale(0.02)" font-size="270" class="lg" stroke-width="5">ax</text><path d="M496 377.3H507" stroke="#ff7f0e" stroke-opacity="0.8" stroke-width="1"/><text transform="translate(510.4 379) rotate(0) scale(0.02)" font-size="270" class="lg" stroke-width="5">ay</text><path d="M496 384.9H507" stroke="#2ca02c" stroke-opacity="0.8" stroke-width="1"/><text transform="translate(510.4 386.6) rotate(0) scale(0.02)" font-size="270" class="lg" stroke-width="5">az</text></g>
<g><g clip-path="url(#c9)" fill="none" stroke-width="1" stroke-opacity="0.8" stroke-linejoin="round" stroke-linecap="round"><path d="M114 481C114.15 481.27 114.55 482.73 114.87 482.64C115.2 482.55 115.56 480.95 115.96 480.45C116.36 479.96 116.87 479.69 117.27 479.69C117.67 479.69 117.91 480.24 118.36 480.45C118.82 480.67 119.55 481 120 481C120.45 481 120.67 480.45 121.09 480.45C121.51 480.45 122.05 480.82 122.51 481C122.96 481.18 123.42 481.73 123.82 481.55C124.22 481.36 124.45 480.45 124.91 479.91C125.36 479.36 126.04 478.82 126.55 478.27C127.05 477.73 127.51 476.45 127.96 476.64C128.42 476.82 128.87 479.18 129.27 479.36C129.67 479.55 130 478.27 130.36 477.73C130.73 477.18 131 476.91 131.45 476.09C131.91 475.27 132.64 473.55 133.09 472.82C133.55 472.09 133.82 471.55 134.18 471.73C134.55 471.91 134.91 473.36 135.27 473.91C135.64 474.45 136 475.18 136.36 475C136.73 474.82 137.04 473.55 137.45 472.82C137.87 472.09 138.42 471.36 138.87 470.64C139.33 469.91 139.78 468.36 140.18 468.45C140.58 468.55 140.91 471 141.27 471.18C141.64 471.36 142 470.18 142.36 469.55C142.73 468.91 143.09 468 143.45 467.36C143.82 466.73 144.22 465.36 144.55 465.73C144.87 466.09 145.15 469.36 145.42 469.55C145.69 469.73 145.93 467.73 146.18 466.82C146.44 465.91 146.67 464.36 146.95 464.09C147.22 463.82 147.53 464.55 147.82 465.18C148.11 465.82 148.33 467.29 148.69 467.91C149.05 468.53 149.6 468.65 150 468.91C150.4 469.17 150.73 469.51 151.09 469.45C151.45 469.4 151.82 468.58 152.18 468.58C152.55 468.58 152.82 469.13 153.27 469.45C153.73 469.78 154.45 470 154.91 470.55C155.36 471.09 155.64 472.55 156 472.73C156.36 472.91 156.73 471.73 157.09 471.64C157.45 471.55 157.82 471.55 158.18 472.18C158.55 472.82 158.91 474.18 159.27 475.45C159.64 476.73 159.91 478.91 160.36 479.82C160.82 480.73 161.45 480.55 162 480.91C162.55 481.27 163.09 481.55 163.64 482C164.18 482.45 164.73 483.18 165.27 483.64C165.82 484.09 166.36 484.36 166.91 484.73C167.45 485.09 168 485.45 168.55 485.82C169.09 486.18 169.73 486.55 170.18 486.91C170.64 487.27 170.82 487.91 171.27 488C171.73 488.09 172.36 487.45 172.91 487.45C173.45 487.45 174.09 487.64 174.55 488C175 488.36 175.27 489.64 175.64 489.64C176 489.64 176.31 488.45 176.73 488C177.15 487.55 177.69 487.64 178.15 486.91C178.6 486.18 178.96 484.64 179.45 483.64C179.95 482.64 180.58 481.64 181.09 480.91C181.6 480.18 182.09 480.09 182.51 479.27C182.93 478.45 183.2 476.82 183.6 476C184 475.18 184.42 474.91 184.91 474.36C185.4 473.82 186 473.55 186.55 472.73C187.09 471.91 187.73 470.22 188.18 469.45C188.64 468.69 188.96 468.29 189.27 468.15C189.58 468 189.63 469.08 190.04 468.58C190.45 468.09 190.97 465.59 191.73 465.18C192.49 464.77 193.64 465.66 194.59 466.14C195.55 466.61 196.5 467.25 197.45 468.05C198.41 468.84 199.68 470.22 200.32 470.91C200.95 471.6 200.75 471.52 201.27 472.18C201.8 472.85 202.82 474 203.45 474.91C204.09 475.82 204.55 477 205.09 477.64C205.64 478.27 206.18 478.64 206.73 478.73C207.27 478.82 207.91 477.91 208.36 478.18C208.82 478.45 209.09 479.55 209.45 480.36C209.82 481.18 210.09 482 210.55 483.09C211 484.18 211.64 486.36 212.18 486.91C212.73 487.45 213.31 486.64 213.82 486.36C214.33 486.09 214.78 485 215.24 485.27C215.69 485.55 216.15 487 216.55 488C216.95 489 217.31 490.55 217.64 491.27C217.96 492 218.18 492.64 218.51 492.36C218.84 492.09 219.24 490.36 219.6 489.64C219.96 488.91 220.29 488 220.69 488C221.09 488 221.51 489.09 222 489.64C222.49 490.18 223.09 490.82 223.64 491.27C224.18 491.73 224.87 492.13 225.27 492.36C225.67 492.6 225.9 492.77 226.04 492.69C226.17 492.62 225.45 491.72 226.09 491.91C226.74 492.1 228.8 493.18 229.91 493.82C231.02 494.45 231.82 495.66 232.77 495.73C233.73 495.79 234.52 494.36 235.64 494.2C236.75 494.04 238.34 494.52 239.45 494.77C240.57 495.03 241.36 495.89 242.32 495.73C243.27 495.57 244.13 494.52 245.18 493.82C246.23 493.12 247.66 491.27 248.62 491.53C249.57 491.78 250.05 494.49 250.91 495.35C251.77 496.2 252.66 496.68 253.77 496.68C254.89 496.68 256.38 495.57 257.59 495.35C258.8 495.12 260.45 495.35 261.03 495.35" stroke="#1f77b4"/><path d="M114 464.09C114.27 464.22 115.09 464.62 115.64 464.85C116.18 465.09 116.64 465.45 117.27 465.51C117.91 465.56 118.73 465.15 119.45 465.18C120.18 465.22 121 465.73 121.64 465.73C122.27 465.73 122.73 465.36 123.27 465.18C123.82 465 124.36 464.76 124.91 464.64C125.45 464.51 126.09 464.33 126.55 464.42C127 464.51 127.18 464.69 127.64 465.18C128.09 465.67 128.82 467.27 129.27 467.36C129.73 467.45 130 466.45 130.36 465.73C130.73 465 131.09 463.91 131.45 463C131.82 462.09 132.18 460.55 132.55 460.27C132.91 460 133.24 460.82 133.64 461.36C134.04 461.91 134.49 463.33 134.95 463.55C135.4 463.76 135.89 463.04 136.36 462.67C136.84 462.31 137.33 461.49 137.78 461.36C138.24 461.24 138.69 461.58 139.09 461.91C139.49 462.24 139.82 463.24 140.18 463.33C140.55 463.42 140.91 462.78 141.27 462.45C141.64 462.13 141.96 461.73 142.36 461.36C142.76 461 143.31 460.36 143.67 460.27C144.04 460.18 144.22 461.18 144.55 460.82C144.87 460.45 145.27 459 145.64 458.09C146 457.18 146.27 456.09 146.73 455.36C147.18 454.64 147.82 454.47 148.36 453.73C148.91 452.98 149.55 451.83 150 450.91C150.45 449.98 150.64 448.82 151.09 448.18C151.55 447.55 152.18 447.15 152.73 447.09C153.27 447.04 153.82 447.31 154.36 447.85C154.91 448.4 155.45 449.31 156 450.36C156.55 451.42 157.09 452.73 157.64 454.18C158.18 455.64 158.73 457.45 159.27 459.09C159.82 460.73 160.36 462.45 160.91 464C161.45 465.55 162 467.09 162.55 468.36C163.09 469.64 163.64 470.55 164.18 471.64C164.73 472.73 165.27 473.91 165.82 474.91C166.36 475.91 166.91 476.82 167.45 477.64C168 478.45 168.55 479.33 169.09 479.82C169.64 480.31 170.18 480.4 170.73 480.58C171.27 480.76 171.82 480.91 172.36 480.91C172.91 480.91 173.45 480.58 174 480.58C174.55 480.58 175.18 480.76 175.64 480.91C176.09 481.05 176.36 481.64 176.73 481.45C177.09 481.27 177.36 480.55 177.82 479.82C178.27 479.09 178.91 478.36 179.45 477.09C180 475.82 180.55 473.91 181.09 472.18C181.64 470.45 182.18 468.45 182.73 466.73C183.27 465 183.82 463.27 184.36 461.82C184.91 460.36 185.45 459.36 186 458C186.55 456.64 187.09 455.09 187.64 453.64C188.18 452.18 188.87 450.27 189.27 449.27C189.67 448.27 189.79 448.17 190.04 447.64C190.29 447.11 190.24 447.14 190.77 446.09C191.31 445.04 192.52 442.27 193.25 441.32C193.99 440.36 194.46 440.05 195.16 440.36C195.86 440.68 196.6 441.64 197.45 443.23C198.31 444.82 199.36 447.36 200.32 449.91C201.27 452.45 202.23 456.02 203.18 458.5C204.14 460.98 205.09 462.89 206.05 464.8C207 466.71 208.11 468.3 208.91 469.95C209.7 471.61 210.02 474.09 210.82 474.73C211.61 475.36 212.73 473.77 213.68 473.77C214.64 473.77 215.59 474.89 216.55 474.73C217.5 474.57 218.45 473.2 219.41 472.82C220.36 472.44 221.32 472.28 222.27 472.44C223.23 472.6 224.18 473.77 225.14 473.77C226.09 473.77 226.89 472.6 228 472.44C229.11 472.28 230.7 473.14 231.82 472.82C232.93 472.5 233.73 471.48 234.68 470.53C235.64 469.57 236.43 468.05 237.55 467.09C238.66 466.14 240.09 465.5 241.36 464.8C242.64 464.1 243.91 463.21 245.18 462.89C246.45 462.57 247.57 462.45 249 462.89C250.43 463.34 252.34 465.34 253.77 465.56C255.2 465.79 256.38 464.55 257.59 464.23C258.8 463.91 260.45 463.75 261.03 463.65" stroke="#ff7f0e"/><path d="M114 485.91C114.18 485.96 114.73 486.05 115.09 486.24C115.45 486.42 115.73 486.69 116.18 487C116.64 487.31 117.27 487.55 117.82 488.09C118.36 488.64 118.91 489.55 119.45 490.27C120 491 120.55 492 121.09 492.45C121.64 492.91 122.18 492.64 122.73 493C123.27 493.36 123.82 494.45 124.36 494.64C124.91 494.82 125.55 494 126 494.09C126.45 494.18 126.73 495.36 127.09 495.18C127.45 495 127.82 493.55 128.18 493C128.55 492.45 128.91 491.91 129.27 491.91C129.64 491.91 130 492.45 130.36 493C130.73 493.55 131.05 494.82 131.45 495.18C131.85 495.55 132.31 495.36 132.76 495.18C133.22 495 133.67 494.82 134.18 494.09C134.69 493.36 135.36 491.64 135.82 490.82C136.27 490 136.58 489.18 136.91 489.18C137.24 489.18 137.51 490 137.78 490.82C138.05 491.64 138.29 493.09 138.55 494.09C138.8 495.09 139.04 496.45 139.31 496.82C139.58 497.18 139.95 497.27 140.18 496.27C140.42 495.27 140.55 492.64 140.73 490.82C140.91 489 141.04 486.82 141.27 485.36C141.51 483.91 141.87 482.36 142.15 482.09C142.42 481.82 142.69 483.09 142.91 483.73C143.13 484.36 143.22 486.36 143.45 485.91C143.69 485.45 144 482.18 144.33 481C144.65 479.82 145.05 478.45 145.42 478.82C145.78 479.18 146.2 483 146.51 483.18C146.82 483.36 147.02 481.36 147.27 479.91C147.53 478.45 147.8 476.18 148.04 474.45C148.27 472.73 148.45 470.64 148.69 469.55C148.93 468.45 149.24 467.92 149.45 467.91C149.67 467.89 149.73 468.92 150 469.45C150.27 469.98 150.73 471.45 151.09 471.09C151.45 470.73 151.82 468.36 152.18 467.27C152.55 466.18 152.91 464.73 153.27 464.55C153.64 464.36 154 465.82 154.36 466.18C154.73 466.55 155.13 466.95 155.45 466.73C155.78 466.51 156 464.96 156.33 464.87C156.65 464.78 157.02 466 157.42 466.18C157.82 466.36 158.29 466.15 158.73 465.96C159.16 465.78 159.67 465.09 160.04 465.09C160.4 465.09 160.58 465.6 160.91 465.96C161.24 466.33 161.64 466.84 162 467.27C162.36 467.71 162.69 468.22 163.09 468.58C163.49 468.95 163.95 469.04 164.4 469.45C164.85 469.87 165.35 470.73 165.82 471.09C166.29 471.45 166.78 471.64 167.24 471.64C167.69 471.64 168.15 470.82 168.55 471.09C168.95 471.36 169.24 472.45 169.64 473.27C170.04 474.09 170.49 475.18 170.95 476C171.4 476.82 171.89 477.42 172.36 478.18C172.84 478.95 173.36 479.85 173.78 480.58C174.2 481.31 174.51 482.13 174.87 482.55C175.24 482.96 175.65 483.45 175.96 483.09C176.27 482.73 176.47 481.73 176.73 480.36C176.98 479 177.25 476.18 177.49 474.91C177.73 473.64 177.91 472.55 178.15 472.73C178.38 472.91 178.65 474.64 178.91 476C179.16 477.36 179.4 479.91 179.67 480.91C179.95 481.91 180.25 482.27 180.55 482C180.84 481.73 181.13 479.36 181.42 479.27C181.71 479.18 181.98 480.36 182.29 481.45C182.6 482.55 182.98 484.73 183.27 485.82C183.56 486.91 183.76 488.36 184.04 488C184.31 487.64 184.58 484.82 184.91 483.64C185.24 482.45 185.64 481.18 186 480.91C186.36 480.64 186.73 481.09 187.09 482C187.45 482.91 187.82 484.73 188.18 486.36C188.55 488 188.91 490.64 189.27 491.82C189.64 493 190 493.09 190.36 493.45C190.73 493.82 191.09 493.55 191.45 494C191.82 494.45 192.18 495.27 192.55 496.18C192.91 497.09 193.31 498.73 193.64 499.45C193.96 500.18 194.24 500.82 194.51 500.55C194.78 500.27 195.02 498 195.27 497.82C195.53 497.64 195.76 498.64 196.04 499.45C196.31 500.27 196.58 501.85 196.91 502.73C197.24 503.6 197.6 504.11 198 504.69C198.4 505.27 198.85 506.09 199.31 506.22C199.76 506.35 200.22 505.82 200.73 505.45C201.24 505.09 201.82 504.4 202.36 504.04C202.91 503.67 203.49 503.76 204 503.27C204.51 502.78 204.96 501.36 205.42 501.09C205.87 500.82 206.33 501.76 206.73 501.64C207.13 501.51 207.42 500.84 207.82 500.33C208.22 499.82 208.73 498.55 209.13 498.58C209.53 498.62 209.85 499.85 210.22 500.55C210.58 501.24 210.98 502.09 211.31 502.73C211.64 503.36 211.85 504.45 212.18 504.36C212.51 504.27 212.87 502.73 213.27 502.18C213.67 501.64 214.13 501.55 214.58 501.09C215.04 500.64 215.49 500 216 499.45C216.51 498.91 217.18 498.36 217.64 497.82C218.09 497.27 218.36 496.18 218.73 496.18C219.09 496.18 219.45 497.18 219.82 497.82C220.18 498.45 220.55 500.09 220.91 500C221.27 499.91 221.64 498.36 222 497.27C222.36 496.18 222.73 494.45 223.09 493.45C223.45 492.45 223.82 492.18 224.18 491.27C224.55 490.36 224.96 488.73 225.27 488C225.58 487.27 225.9 486.96 226.04 486.91C226.17 486.86 225.6 488.15 226.09 487.71C226.58 487.27 228 485.48 228.95 484.27C229.91 483.06 230.86 480.84 231.82 480.45C232.77 480.07 233.73 482.36 234.68 481.98C235.64 481.6 236.59 479.21 237.55 478.16C238.5 477.11 239.3 476 240.41 475.68C241.52 475.36 243.11 475.78 244.23 476.25C245.34 476.73 246.14 478 247.09 478.55C248.05 479.09 249 479.98 249.95 479.5C250.91 479.02 251.86 475.84 252.82 475.68C253.77 475.52 254.73 477.59 255.68 478.55C256.64 479.5 257.65 480.71 258.55 481.41C259.44 482.11 260.61 482.52 261.03 482.75" stroke="#2ca02c"/></g><rect x="114.3" y="427.4" width="146.1" height="104.2" fill="none" stroke="#000" stroke-width="0.32"/><path d="M113 531.6H114.3M113 520.02H114.3M113 508.44H114.3M113 496.87H114.3M113 485.29H114.3M113 473.71H114.3M113 462.13H114.3M113 450.56H114.3M113 438.98H114.3M113 427.4H114.3M114.3 531.6V532.9M137.49 531.6V532.9M160.68 531.6V532.9M183.87 531.6V532.9M207.06 531.6V532.9M230.25 531.6V532.9M253.44 531.6V532.9" stroke="#000" stroke-width="0.32"/><text transform="translate(111.7 533.89) rotate(0) scale(0.02)" font-size="272.5" text-anchor="end" stroke-width="6" letter-spacing="-7.5">−20</text><text transform="translate(111.7 522.31) rotate(0) scale(0.02)" font-size="272.5" text-anchor="end" stroke-width="6" letter-spacing="-7.5">−15</text><text transform="translate(111.7 510.73) rotate(0) scale(0.02)" font-size="272.5" text-anchor="end" stroke-width="6" letter-spacing="-7.5">−10</text><text transform="translate(111.7 499.16) rotate(0) scale(0.02)" font-size="272.5" text-anchor="end" stroke-width="6" letter-spacing="-7.5">−5</text><text transform="translate(111.7 487.58) rotate(0) scale(0.02)" font-size="272.5" text-anchor="end" stroke-width="6" letter-spacing="-7.5">0</text><text transform="translate(111.7 476) rotate(0) scale(0.02)" font-size="272.5" text-anchor="end" stroke-width="6" letter-spacing="-7.5">5</text><text transform="translate(111.7 464.42) rotate(0) scale(0.02)" font-size="272.5" text-anchor="end" stroke-width="6" letter-spacing="-7.5">10</text><text transform="translate(111.7 452.84) rotate(0) scale(0.02)" font-size="272.5" text-anchor="end" stroke-width="6" letter-spacing="-7.5">15</text><text transform="translate(111.7 441.27) rotate(0) scale(0.02)" font-size="272.5" text-anchor="end" stroke-width="6" letter-spacing="-7.5">20</text><text transform="translate(111.7 429.69) rotate(0) scale(0.02)" font-size="272.5" text-anchor="end" stroke-width="6" letter-spacing="-7.5">25</text><text transform="translate(114.3 538.3) rotate(0) scale(0.02)" font-size="272.5" text-anchor="middle" stroke-width="6" letter-spacing="-7.5">0</text><text transform="translate(137.49 538.3) rotate(0) scale(0.02)" font-size="272.5" text-anchor="middle" stroke-width="6" letter-spacing="-7.5">20</text><text transform="translate(160.68 538.3) rotate(0) scale(0.02)" font-size="272.5" text-anchor="middle" stroke-width="6" letter-spacing="-7.5">40</text><text transform="translate(183.87 538.3) rotate(0) scale(0.02)" font-size="272.5" text-anchor="middle" stroke-width="6" letter-spacing="-7.5">60</text><text transform="translate(207.06 538.3) rotate(0) scale(0.02)" font-size="272.5" text-anchor="middle" stroke-width="6" letter-spacing="-7.5">80</text><text transform="translate(230.25 538.3) rotate(0) scale(0.02)" font-size="272.5" text-anchor="middle" stroke-width="6" letter-spacing="-7.5">100</text><text transform="translate(253.44 538.3) rotate(0) scale(0.02)" font-size="272.5" text-anchor="middle" stroke-width="6" letter-spacing="-7.5">120</text><text transform="translate(187.35 546.1) rotate(0) scale(0.02)" font-size="292.5" text-anchor="middle" stroke-width="6">Sample Number</text><text transform="translate(187.35 425) rotate(0) scale(0.02)" font-size="335" text-anchor="middle" stroke-width="6">Gesture 10</text><text transform="translate(97.7 480.1) rotate(-90) scale(0.02)" font-size="292.5" text-anchor="middle" class="it" stroke-width="6">M/Sec<tspan font-size="204.75" dy="-105.3" font-style="normal">2</tspan></text><rect x="233.4" y="504.8" width="24.8" height="24.6" rx="1" fill="#fff" fill-opacity="0.8" stroke="#ccc" stroke-width="0.5"/><path d="M235 508.8H246" stroke="#1f77b4" stroke-opacity="0.8" stroke-width="1"/><text transform="translate(249.4 510.5) rotate(0) scale(0.02)" font-size="270" class="lg" stroke-width="5">ax</text><path d="M235 516.4H246" stroke="#ff7f0e" stroke-opacity="0.8" stroke-width="1"/><text transform="translate(249.4 518.1) rotate(0) scale(0.02)" font-size="270" class="lg" stroke-width="5">ay</text><path d="M235 524H246" stroke="#2ca02c" stroke-opacity="0.8" stroke-width="1"/><text transform="translate(249.4 525.7) rotate(0) scale(0.02)" font-size="270" class="lg" stroke-width="5">az</text></g>
<g><g clip-path="url(#c10)" fill="none" stroke-width="1" stroke-opacity="0.8" stroke-linejoin="round" stroke-linecap="round"><path d="M287 483.32C287.48 483.48 288.91 484.37 289.86 484.27C290.82 484.18 291.61 482.84 292.73 482.75C293.84 482.65 295.27 483.51 296.55 483.7C297.82 483.89 299.09 483.86 300.36 483.89C301.64 483.92 303.23 484.15 304.18 483.89C305.14 483.64 305.3 482.24 306.09 482.36C306.89 482.49 308.16 484.34 308.95 484.65C309.75 484.97 310.07 485.13 310.86 484.27C311.66 483.41 312.77 480.71 313.73 479.5C314.68 478.29 315.8 478.13 316.59 477.02C317.39 475.9 317.7 474.47 318.5 472.82C319.3 471.16 320.41 468.52 321.36 467.09C322.32 465.66 323.27 465.18 324.23 464.23C325.18 463.27 326.14 462.32 327.09 461.36C328.05 460.41 329 460.09 329.95 458.5C330.91 456.91 331.86 453.31 332.82 451.82C333.77 450.32 334.73 450.1 335.68 449.53C336.64 448.95 337.75 448.95 338.55 448.38C339.34 447.81 339.82 446 340.45 446.09C341.09 446.19 341.57 448 342.36 448.95C343.16 449.91 344.27 451.25 345.23 451.82C346.18 452.39 347.14 452.07 348.09 452.39C349.05 452.71 350 452.61 350.95 453.73C351.91 454.84 352.86 458.6 353.82 459.07C354.77 459.55 355.89 456.78 356.68 456.59C357.48 456.4 358.2 457.61 358.59 457.93C358.98 458.25 358.3 458.63 359 458.5C359.7 458.37 361.55 457.58 362.82 457.16C364.09 456.75 365.36 456.43 366.64 456.02C367.91 455.6 369.18 455.32 370.45 454.68C371.73 454.05 373 452.93 374.27 452.2C375.55 451.47 376.82 450.61 378.09 450.29C379.36 449.97 380.64 450.1 381.91 450.29C383.18 450.48 384.61 450.86 385.73 451.44C386.84 452.01 387.64 452.71 388.59 453.73C389.55 454.75 390.5 455.95 391.45 457.55C392.41 459.14 393.36 461.68 394.32 463.27C395.27 464.86 396.23 465.88 397.18 467.09C398.14 468.3 399.09 469.41 400.05 470.53C401 471.64 401.95 472.69 402.91 473.77C403.86 474.85 404.82 476.16 405.77 477.02C406.73 477.88 407.68 478.04 408.64 478.93C409.59 479.82 410.55 481.73 411.5 482.36C412.45 483 413.41 482.9 414.36 482.75C415.32 482.59 416.27 481.47 417.23 481.41C418.18 481.35 419.14 482.05 420.09 482.36C421.05 482.68 422 483.32 422.95 483.32C423.91 483.32 424.7 482.59 425.82 482.36C426.93 482.14 428.27 482.24 429.64 481.98C431 481.73 433.3 481.03 434.03 480.84" stroke="#1f77b4"/><path d="M287 460.98C287.64 461.14 289.55 461.62 290.82 461.94C292.09 462.25 293.36 462.19 294.64 462.89C295.91 463.59 297.34 464.96 298.45 466.14C299.57 467.31 300.36 468.68 301.32 469.95C302.27 471.23 303.23 472.4 304.18 473.77C305.14 475.14 306.09 477.05 307.05 478.16C308 479.28 308.95 480.07 309.91 480.45C310.86 480.84 311.82 480.77 312.77 480.45C313.73 480.14 314.68 479.18 315.64 478.55C316.59 477.91 317.61 476.7 318.5 476.64C319.39 476.57 320.19 477.69 320.98 478.16C321.78 478.64 322.41 479.6 323.27 479.5C324.13 479.4 325.18 477.69 326.14 477.59C327.09 477.5 328.05 479.15 329 478.93C329.95 478.7 330.91 476.95 331.86 476.25C332.82 475.55 333.77 475.3 334.73 474.73C335.68 474.15 336.64 473.39 337.59 472.82C338.55 472.25 339.34 471.67 340.45 471.29C341.57 470.91 343 470.85 344.27 470.53C345.55 470.21 346.82 469.48 348.09 469.38C349.36 469.29 350.8 470.18 351.91 469.95C353.02 469.73 353.82 468.68 354.77 468.05C355.73 467.41 356.93 466.45 357.64 466.14C358.34 465.82 358.14 465.82 359 466.14C359.86 466.45 361.55 467.41 362.82 468.05C364.09 468.68 365.36 469.54 366.64 469.95C367.91 470.37 369.18 470.3 370.45 470.53C371.73 470.75 373 470.75 374.27 471.29C375.55 471.83 376.82 473.04 378.09 473.77C379.36 474.5 380.64 475.14 381.91 475.68C383.18 476.22 384.45 476.6 385.73 477.02C387 477.43 388.27 477.75 389.55 478.16C390.82 478.58 392.09 479.37 393.36 479.5C394.64 479.63 395.91 479.15 397.18 478.93C398.45 478.7 399.73 478.23 401 478.16C402.27 478.1 403.61 478.55 404.82 478.55C406.03 478.55 407.3 478.55 408.25 478.16C409.21 477.78 409.69 477.15 410.55 476.25C411.4 475.36 412.45 473.87 413.41 472.82C414.36 471.77 415.32 470.75 416.27 469.95C417.23 469.16 418.18 468.27 419.14 468.05C420.09 467.82 421.05 468.78 422 468.62C422.95 468.46 423.91 467.28 424.86 467.09C425.82 466.9 426.77 467.79 427.73 467.47C428.68 467.15 429.54 466.04 430.59 465.18C431.64 464.32 433.45 462.8 434.03 462.32" stroke="#ff7f0e"/><path d="M287 486.18C287.48 485.7 288.91 483.95 289.86 483.32C290.82 482.68 291.61 482.36 292.73 482.36C293.84 482.36 295.27 483.06 296.55 483.32C297.82 483.57 299.09 483.67 300.36 483.89C301.64 484.11 302.91 484.43 304.18 484.65C305.45 484.88 306.73 484.97 308 485.23C309.27 485.48 310.7 485.77 311.82 486.18C312.93 486.6 313.73 487.71 314.68 487.71C315.64 487.71 316.43 486.18 317.55 486.18C318.66 486.18 320.25 488.19 321.36 487.71C322.48 487.23 323.27 484.21 324.23 483.32C325.18 482.43 326.14 482.9 327.09 482.36C328.05 481.82 329 480.07 329.95 480.07C330.91 480.07 331.86 482.3 332.82 482.36C333.77 482.43 334.73 481.03 335.68 480.45C336.64 479.88 337.59 479.09 338.55 478.93C339.5 478.77 340.45 479.63 341.41 479.5C342.36 479.37 343.32 478.58 344.27 478.16C345.23 477.75 346.18 476.95 347.14 477.02C348.09 477.08 349.05 478.45 350 478.55C350.95 478.64 351.91 477.34 352.86 477.59C353.82 477.85 354.77 480.17 355.73 480.07C356.68 479.98 358.05 477.53 358.59 477.02C359.14 476.51 358.45 477.15 359 477.02C359.55 476.89 360.91 476.57 361.86 476.25C362.82 475.94 363.77 474.73 364.73 475.11C365.68 475.49 366.64 478.13 367.59 478.55C368.55 478.96 369.5 477.53 370.45 477.59C371.41 477.65 372.52 478.13 373.32 478.93C374.11 479.72 374.59 482.59 375.23 482.36C375.86 482.14 376.34 478.61 377.14 477.59C377.93 476.57 378.89 476.16 380 476.25C381.11 476.35 382.55 477.46 383.82 478.16C385.09 478.86 386.36 480.14 387.64 480.45C388.91 480.77 390.34 480.01 391.45 480.07C392.57 480.14 393.36 480.39 394.32 480.84C395.27 481.28 396.07 482.11 397.18 482.75C398.3 483.38 399.73 484.4 401 484.65C402.27 484.91 403.55 484.18 404.82 484.27C406.09 484.37 407.36 484.91 408.64 485.23C409.91 485.55 411.34 486.18 412.45 486.18C413.57 486.18 414.36 485.39 415.32 485.23C416.27 485.07 417.23 484.81 418.18 485.23C419.14 485.64 420.09 487.8 421.05 487.71C422 487.61 422.8 485.16 423.91 484.65C425.02 484.15 426.61 484.78 427.73 484.65C428.84 484.53 429.54 484.11 430.59 483.89C431.64 483.67 433.45 483.41 434.03 483.32" stroke="#2ca02c"/></g><rect x="287.3" y="427.4" width="146.5" height="104.2" fill="none" stroke="#000" stroke-width="0.32"/><path d="M286 531.6H287.3M286 520.02H287.3M286 508.44H287.3M286 496.87H287.3M286 485.29H287.3M286 473.71H287.3M286 462.13H287.3M286 450.56H287.3M286 438.98H287.3M286 427.4H287.3M287.3 531.6V532.9M318.47 531.6V532.9M349.64 531.6V532.9M380.81 531.6V532.9M411.98 531.6V532.9" stroke="#000" stroke-width="0.32"/><text transform="translate(284.7 533.89) rotate(0) scale(0.02)" font-size="272.5" text-anchor="end" stroke-width="6" letter-spacing="-7.5">−20</text><text transform="translate(284.7 522.31) rotate(0) scale(0.02)" font-size="272.5" text-anchor="end" stroke-width="6" letter-spacing="-7.5">−15</text><text transform="translate(284.7 510.73) rotate(0) scale(0.02)" font-size="272.5" text-anchor="end" stroke-width="6" letter-spacing="-7.5">−10</text><text transform="translate(284.7 499.16) rotate(0) scale(0.02)" font-size="272.5" text-anchor="end" stroke-width="6" letter-spacing="-7.5">−5</text><text transform="translate(284.7 487.58) rotate(0) scale(0.02)" font-size="272.5" text-anchor="end" stroke-width="6" letter-spacing="-7.5">0</text><text transform="translate(284.7 476) rotate(0) scale(0.02)" font-size="272.5" text-anchor="end" stroke-width="6" letter-spacing="-7.5">5</text><text transform="translate(284.7 464.42) rotate(0) scale(0.02)" font-size="272.5" text-anchor="end" stroke-width="6" letter-spacing="-7.5">10</text><text transform="translate(284.7 452.84) rotate(0) scale(0.02)" font-size="272.5" text-anchor="end" stroke-width="6" letter-spacing="-7.5">15</text><text transform="translate(284.7 441.27) rotate(0) scale(0.02)" font-size="272.5" text-anchor="end" stroke-width="6" letter-spacing="-7.5">20</text><text transform="translate(284.7 429.69) rotate(0) scale(0.02)" font-size="272.5" text-anchor="end" stroke-width="6" letter-spacing="-7.5">25</text><text transform="translate(287.3 538.3) rotate(0) scale(0.02)" font-size="272.5" text-anchor="middle" stroke-width="6" letter-spacing="-7.5">0</text><text transform="translate(318.47 538.3) rotate(0) scale(0.02)" font-size="272.5" text-anchor="middle" stroke-width="6" letter-spacing="-7.5">20</text><text transform="translate(349.64 538.3) rotate(0) scale(0.02)" font-size="272.5" text-anchor="middle" stroke-width="6" letter-spacing="-7.5">40</text><text transform="translate(380.81 538.3) rotate(0) scale(0.02)" font-size="272.5" text-anchor="middle" stroke-width="6" letter-spacing="-7.5">60</text><text transform="translate(411.98 538.3) rotate(0) scale(0.02)" font-size="272.5" text-anchor="middle" stroke-width="6" letter-spacing="-7.5">80</text><text transform="translate(360.55 546.1) rotate(0) scale(0.02)" font-size="292.5" text-anchor="middle" stroke-width="6">Sample Number</text><text transform="translate(360.55 425) rotate(0) scale(0.02)" font-size="335" text-anchor="middle" stroke-width="6">Gesture 11</text><text transform="translate(270.7 480.1) rotate(-90) scale(0.02)" font-size="292.5" text-anchor="middle" class="it" stroke-width="6">M/Sec<tspan font-size="204.75" dy="-105.3" font-style="normal">2</tspan></text><rect x="406.8" y="504.8" width="24.8" height="24.6" rx="1" fill="#fff" fill-opacity="0.8" stroke="#ccc" stroke-width="0.5"/><path d="M408.4 508.8H419.4" stroke="#1f77b4" stroke-opacity="0.8" stroke-width="1"/><text transform="translate(422.8 510.5) rotate(0) scale(0.02)" font-size="270" class="lg" stroke-width="5">ax</text><path d="M408.4 516.4H419.4" stroke="#ff7f0e" stroke-opacity="0.8" stroke-width="1"/><text transform="translate(422.8 518.1) rotate(0) scale(0.02)" font-size="270" class="lg" stroke-width="5">ay</text><path d="M408.4 524H419.4" stroke="#2ca02c" stroke-opacity="0.8" stroke-width="1"/><text transform="translate(422.8 525.7) rotate(0) scale(0.02)" font-size="270" class="lg" stroke-width="5">az</text></g>
</g></svg></body></html>
